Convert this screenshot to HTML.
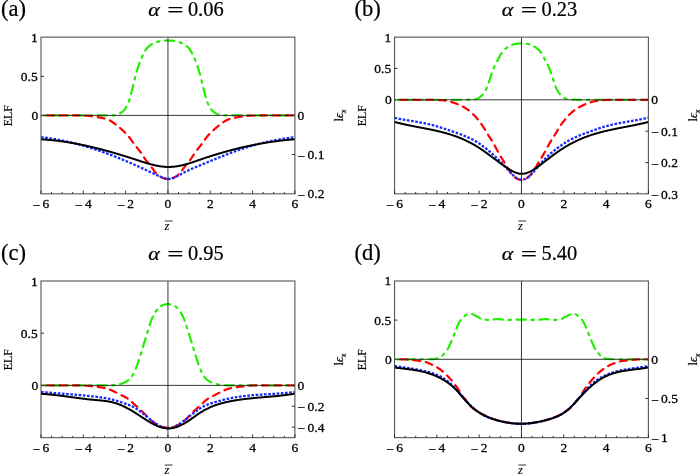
<!DOCTYPE html>
<html><head><meta charset="utf-8"><style>html,body{margin:0;padding:0;background:#fff;}svg{display:block;}</style></head>
<body>
<svg width="700" height="476" viewBox="0 0 700 476">
<rect x="0" y="0" width="700" height="476" fill="#fff"/>
<clipPath id="clipa"><rect x="41.0" y="37.15" width="253.90" height="156.65"/></clipPath>
<g clip-path="url(#clipa)" fill="none" stroke-linejoin="round">
<path d="M41.00,115.40 L41.50,115.40 L42.00,115.40 L42.50,115.40 L43.00,115.40 L43.50,115.40 L44.00,115.40 L44.50,115.40 L45.00,115.40 L45.50,115.40 L46.00,115.40 L46.50,115.40 L47.00,115.40 L47.50,115.40 L48.00,115.40 L48.50,115.40 L49.00,115.40 L49.50,115.40 L50.00,115.40 L50.50,115.40 L51.00,115.40 L51.50,115.40 L52.00,115.40 L52.50,115.40 L53.00,115.40 L53.50,115.40 L54.00,115.40 L54.50,115.40 L55.00,115.40 L55.50,115.40 L56.00,115.40 L56.50,115.40 L57.00,115.40 L57.50,115.40 L58.00,115.40 L58.50,115.40 L59.00,115.40 L59.50,115.40 L60.00,115.40 L60.50,115.40 L61.00,115.40 L61.50,115.40 L62.00,115.40 L62.50,115.40 L63.00,115.40 L63.50,115.40 L64.00,115.40 L64.50,115.40 L65.00,115.40 L65.50,115.40 L66.00,115.40 L66.50,115.40 L67.00,115.40 L67.50,115.40 L68.00,115.40 L68.50,115.40 L69.00,115.40 L69.50,115.40 L70.00,115.40 L70.50,115.40 L71.00,115.40 L71.50,115.40 L72.00,115.40 L72.50,115.40 L73.00,115.40 L73.50,115.40 L74.00,115.40 L74.50,115.40 L75.00,115.40 L75.50,115.40 L76.00,115.40 L76.50,115.40 L77.00,115.40 L77.50,115.40 L78.00,115.40 L78.50,115.40 L79.00,115.40 L79.50,115.40 L80.00,115.40 L80.50,115.40 L81.00,115.40 L81.50,115.40 L82.00,115.40 L82.50,115.40 L83.00,115.40 L83.50,115.40 L84.00,115.40 L84.50,115.40 L85.00,115.40 L85.50,115.40 L86.00,115.40 L86.50,115.40 L87.00,115.40 L87.50,115.40 L88.00,115.40 L88.50,115.40 L89.00,115.40 L89.50,115.40 L90.00,115.40 L90.50,115.40 L91.00,115.40 L91.50,115.40 L92.00,115.40 L92.50,115.40 L93.00,115.40 L93.50,115.40 L94.00,115.40 L94.50,115.40 L95.00,115.40 L95.50,115.40 L96.00,115.40 L96.50,115.40 L97.00,115.40 L97.50,115.40 L98.00,115.40 L98.50,115.40 L99.00,115.40 L99.50,115.40 L100.00,115.40 L100.50,115.40 L101.00,115.40 L101.50,115.40 L102.00,115.40 L102.50,115.40 L103.00,115.40 L103.50,115.40 L104.00,115.40 L104.50,115.40 L105.00,115.40 L105.50,115.40 L106.00,115.40 L106.50,115.40 L107.00,115.40 L107.50,115.40 L108.00,115.40 L108.50,115.40 L109.00,115.40 L109.50,115.40 L110.00,115.40 L110.50,115.40 L111.00,115.40 L111.50,115.40 L112.00,115.40 L112.50,115.40 L113.00,115.39 L113.50,115.37 L114.00,115.35 L114.50,115.32 L115.00,115.28 L115.50,115.24 L116.00,115.20 L116.50,115.11 L117.00,114.95 L117.50,114.73 L118.00,114.47 L118.50,114.19 L119.00,113.91 L119.50,113.64 L120.00,113.36 L120.50,113.06 L121.00,112.75 L121.50,112.41 L122.00,112.06 L122.50,111.67 L123.00,111.25 L123.50,110.79 L124.00,110.30 L124.50,109.72 L125.00,109.04 L125.50,108.27 L126.00,107.44 L126.50,106.54 L127.00,105.59 L127.50,104.58 L128.00,103.44 L128.50,102.17 L129.00,100.79 L129.50,99.27 L130.00,97.56 L130.50,95.75 L131.00,93.90 L131.50,92.03 L132.00,90.10 L132.50,88.13 L133.00,86.12 L133.50,84.09 L134.00,81.95 L134.50,79.76 L135.00,77.68 L135.50,75.78 L136.00,73.97 L136.50,72.22 L137.00,70.54 L137.50,68.93 L138.00,67.39 L138.50,65.91 L139.00,64.47 L139.50,63.07 L140.00,61.71 L140.50,60.40 L141.00,59.16 L141.50,57.99 L142.00,56.91 L142.50,55.89 L143.00,54.89 L143.50,53.90 L144.00,52.95 L144.50,52.03 L145.00,51.15 L145.50,50.32 L146.00,49.55 L146.50,48.83 L147.00,48.18 L147.50,47.61 L148.00,47.11 L148.50,46.65 L149.00,46.23 L149.50,45.84 L150.00,45.48 L150.50,45.15 L151.00,44.83 L151.50,44.54 L152.00,44.26 L152.50,44.00 L153.00,43.75 L153.50,43.50 L154.00,43.26 L154.50,43.02 L155.00,42.80 L155.50,42.58 L156.00,42.38 L156.50,42.18 L157.00,42.00 L157.50,41.84 L158.00,41.68 L158.50,41.54 L159.00,41.42 L159.50,41.31 L160.00,41.21 L160.50,41.11 L161.00,41.02 L161.50,40.94 L162.00,40.86 L162.50,40.80 L163.00,40.74 L163.50,40.70 L164.00,40.67 L164.50,40.63 L165.00,40.60 L165.50,40.57 L166.00,40.55 L166.50,40.53 L167.00,40.51 L167.50,40.50 L168.00,40.50 L168.50,40.50 L169.00,40.51 L169.50,40.53 L170.00,40.55 L170.50,40.58 L171.00,40.61 L171.50,40.64 L172.00,40.67 L172.50,40.71 L173.00,40.75 L173.50,40.81 L174.00,40.87 L174.50,40.95 L175.00,41.04 L175.50,41.13 L176.00,41.23 L176.50,41.33 L177.00,41.45 L177.50,41.57 L178.00,41.71 L178.50,41.87 L179.00,42.04 L179.50,42.22 L180.00,42.42 L180.50,42.63 L181.00,42.84 L181.50,43.07 L182.00,43.30 L182.50,43.55 L183.00,43.80 L183.50,44.05 L184.00,44.32 L184.50,44.60 L185.00,44.89 L185.50,45.21 L186.00,45.55 L186.50,45.92 L187.00,46.32 L187.50,46.74 L188.00,47.20 L188.50,47.72 L189.00,48.31 L189.50,48.97 L190.00,49.70 L190.50,50.48 L191.00,51.33 L191.50,52.21 L192.00,53.14 L192.50,54.10 L193.00,55.08 L193.50,56.09 L194.00,57.12 L194.50,58.22 L195.00,59.40 L195.50,60.66 L196.00,61.97 L196.50,63.34 L197.00,64.76 L197.50,66.20 L198.00,67.69 L198.50,69.25 L199.00,70.87 L199.50,72.57 L200.00,74.32 L200.50,76.15 L201.00,78.08 L201.50,80.20 L202.00,82.38 L202.50,84.50 L203.00,86.53 L203.50,88.53 L204.00,90.49 L204.50,92.41 L205.00,94.27 L205.50,96.12 L206.00,97.92 L206.50,99.59 L207.00,101.07 L207.50,102.43 L208.00,103.68 L208.50,104.79 L209.00,105.78 L209.50,106.72 L210.00,107.61 L210.50,108.43 L211.00,109.18 L211.50,109.84 L212.00,110.40 L212.50,110.89 L213.00,111.33 L213.50,111.75 L214.00,112.13 L214.50,112.48 L215.00,112.81 L215.50,113.12 L216.00,113.41 L216.50,113.69 L217.00,113.96 L217.50,114.25 L218.00,114.52 L218.50,114.77 L219.00,114.98 L219.50,115.14 L220.00,115.21 L220.50,115.25 L221.00,115.29 L221.50,115.32 L222.00,115.35 L222.50,115.37 L223.00,115.39 L223.50,115.40 L224.00,115.40 L224.50,115.40 L225.00,115.40 L225.50,115.40 L226.00,115.40 L226.50,115.40 L227.00,115.40 L227.50,115.40 L228.00,115.40 L228.50,115.40 L229.00,115.40 L229.50,115.40 L230.00,115.40 L230.50,115.40 L231.00,115.40 L231.50,115.40 L232.00,115.40 L232.50,115.40 L233.00,115.40 L233.50,115.40 L234.00,115.40 L234.50,115.40 L235.00,115.40 L235.50,115.40 L236.00,115.40 L236.50,115.40 L237.00,115.40 L237.50,115.40 L238.00,115.40 L238.50,115.40 L239.00,115.40 L239.50,115.40 L240.00,115.40 L240.50,115.40 L241.00,115.40 L241.50,115.40 L242.00,115.40 L242.50,115.40 L243.00,115.40 L243.50,115.40 L244.00,115.40 L244.50,115.40 L245.00,115.40 L245.50,115.40 L246.00,115.40 L246.50,115.40 L247.00,115.40 L247.50,115.40 L248.00,115.40 L248.50,115.40 L249.00,115.40 L249.50,115.40 L250.00,115.40 L250.50,115.40 L251.00,115.40 L251.50,115.40 L252.00,115.40 L252.50,115.40 L253.00,115.40 L253.50,115.40 L254.00,115.40 L254.50,115.40 L255.00,115.40 L255.50,115.40 L256.00,115.40 L256.50,115.40 L257.00,115.40 L257.50,115.40 L258.00,115.40 L258.50,115.40 L259.00,115.40 L259.50,115.40 L260.00,115.40 L260.50,115.40 L261.00,115.40 L261.50,115.40 L262.00,115.40 L262.50,115.40 L263.00,115.40 L263.50,115.40 L264.00,115.40 L264.50,115.40 L265.00,115.40 L265.50,115.40 L266.00,115.40 L266.50,115.40 L267.00,115.40 L267.50,115.40 L268.00,115.40 L268.50,115.40 L269.00,115.40 L269.50,115.40 L270.00,115.40 L270.50,115.40 L271.00,115.40 L271.50,115.40 L272.00,115.40 L272.50,115.40 L273.00,115.40 L273.50,115.40 L274.00,115.40 L274.50,115.40 L275.00,115.40 L275.50,115.40 L276.00,115.40 L276.50,115.40 L277.00,115.40 L277.50,115.40 L278.00,115.40 L278.50,115.40 L279.00,115.40 L279.50,115.40 L280.00,115.40 L280.50,115.40 L281.00,115.40 L281.50,115.40 L282.00,115.40 L282.50,115.40 L283.00,115.40 L283.50,115.40 L284.00,115.40 L284.50,115.40 L285.00,115.40 L285.50,115.40 L286.00,115.40 L286.50,115.40 L287.00,115.40 L287.50,115.40 L288.00,115.40 L288.50,115.40 L289.00,115.40 L289.50,115.40 L290.00,115.40 L290.50,115.40 L291.00,115.40 L291.50,115.40 L292.00,115.40 L292.50,115.40 L293.00,115.40 L293.50,115.40 L294.00,115.40 L294.50,115.40 L294.90,115.40" stroke="#22ee00" stroke-width="2.2" stroke-dasharray="9.2 5.65 2.4 5.65" stroke-dashoffset="11.97" stroke-linecap="round"/>
<path d="M41.00,115.40 L41.50,115.40 L42.00,115.40 L42.50,115.40 L43.00,115.40 L43.50,115.40 L44.00,115.40 L44.50,115.40 L45.00,115.40 L45.50,115.40 L46.00,115.40 L46.50,115.40 L47.00,115.40 L47.50,115.40 L48.00,115.40 L48.50,115.40 L49.00,115.40 L49.50,115.40 L50.00,115.40 L50.50,115.40 L51.00,115.40 L51.50,115.40 L52.00,115.40 L52.50,115.40 L53.00,115.40 L53.50,115.40 L54.00,115.40 L54.50,115.40 L55.00,115.40 L55.50,115.40 L56.00,115.40 L56.50,115.40 L57.00,115.40 L57.50,115.40 L58.00,115.40 L58.50,115.40 L59.00,115.40 L59.50,115.40 L60.00,115.40 L60.50,115.40 L61.00,115.40 L61.50,115.40 L62.00,115.40 L62.50,115.40 L63.00,115.40 L63.50,115.40 L64.00,115.40 L64.50,115.40 L65.00,115.40 L65.50,115.40 L66.00,115.40 L66.50,115.40 L67.00,115.40 L67.50,115.40 L68.00,115.40 L68.50,115.40 L69.00,115.40 L69.50,115.40 L70.00,115.40 L70.50,115.40 L71.00,115.40 L71.50,115.40 L72.00,115.40 L72.50,115.40 L73.00,115.40 L73.50,115.40 L74.00,115.40 L74.50,115.40 L75.00,115.40 L75.50,115.40 L76.00,115.40 L76.50,115.41 L77.00,115.41 L77.50,115.42 L78.00,115.42 L78.50,115.43 L79.00,115.44 L79.50,115.45 L80.00,115.46 L80.50,115.47 L81.00,115.48 L81.50,115.49 L82.00,115.51 L82.50,115.52 L83.00,115.54 L83.50,115.55 L84.00,115.57 L84.50,115.58 L85.00,115.60 L85.50,115.62 L86.00,115.65 L86.50,115.68 L87.00,115.72 L87.50,115.76 L88.00,115.80 L88.50,115.85 L89.00,115.90 L89.50,115.95 L90.00,116.00 L90.50,116.05 L91.00,116.11 L91.50,116.18 L92.00,116.25 L92.50,116.32 L93.00,116.39 L93.50,116.47 L94.00,116.55 L94.50,116.62 L95.00,116.70 L95.50,116.77 L96.00,116.85 L96.50,116.92 L97.00,117.00 L97.50,117.07 L98.00,117.15 L98.50,117.23 L99.00,117.32 L99.50,117.41 L100.00,117.50 L100.50,117.60 L101.00,117.70 L101.50,117.81 L102.00,117.92 L102.50,118.04 L103.00,118.16 L103.50,118.29 L104.00,118.42 L104.50,118.56 L105.00,118.70 L105.50,118.85 L106.00,118.99 L106.50,119.15 L107.00,119.31 L107.50,119.48 L108.00,119.66 L108.50,119.85 L109.00,120.05 L109.50,120.27 L110.00,120.50 L110.50,120.76 L111.00,121.06 L111.50,121.40 L112.00,121.75 L112.50,122.12 L113.00,122.50 L113.50,122.88 L114.00,123.25 L114.50,123.61 L115.00,123.99 L115.50,124.36 L116.00,124.74 L116.50,125.12 L117.00,125.51 L117.50,125.90 L118.00,126.30 L118.50,126.71 L119.00,127.12 L119.50,127.53 L120.00,127.96 L120.50,128.39 L121.00,128.82 L121.50,129.27 L122.00,129.72 L122.50,130.17 L123.00,130.63 L123.50,131.10 L124.00,131.57 L124.50,132.05 L125.00,132.55 L125.50,133.05 L126.00,133.56 L126.50,134.08 L127.00,134.62 L127.50,135.16 L128.00,135.73 L128.50,136.30 L129.00,136.90 L129.50,137.54 L130.00,138.20 L130.50,138.89 L131.00,139.60 L131.50,140.31 L132.00,141.04 L132.50,141.76 L133.00,142.48 L133.50,143.18 L134.00,143.87 L134.50,144.53 L135.00,145.17 L135.50,145.80 L136.00,146.41 L136.50,147.02 L137.00,147.62 L137.50,148.22 L138.00,148.83 L138.50,149.45 L139.00,150.08 L139.50,150.72 L140.00,151.39 L140.50,152.08 L141.00,152.81 L141.50,153.57 L142.00,154.35 L142.50,155.13 L143.00,155.90 L143.50,156.65 L144.00,157.42 L144.50,158.19 L145.00,158.94 L145.50,159.67 L146.00,160.34 L146.50,160.96 L147.00,161.51 L147.50,162.04 L148.00,162.60 L148.50,163.21 L149.00,163.85 L149.50,164.51 L150.00,165.18 L150.50,165.86 L151.00,166.53 L151.50,167.21 L152.00,167.87 L152.50,168.53 L153.00,169.20 L153.50,169.89 L154.00,170.57 L154.50,171.23 L155.00,171.86 L155.50,172.46 L156.00,173.00 L156.50,173.50 L157.00,173.99 L157.50,174.46 L158.00,174.91 L158.50,175.33 L159.00,175.72 L159.50,176.08 L160.00,176.40 L160.50,176.70 L161.00,176.98 L161.50,177.24 L162.00,177.48 L162.50,177.71 L163.00,177.91 L163.50,178.10 L164.00,178.27 L164.50,178.43 L165.00,178.60 L165.50,178.76 L166.00,178.91 L166.50,179.03 L167.00,179.13 L167.50,179.18 L168.00,179.20 L168.50,179.18 L169.00,179.11 L169.50,179.01 L170.00,178.88 L170.50,178.73 L171.00,178.57 L171.50,178.40 L172.00,178.23 L172.50,178.06 L173.00,177.87 L173.50,177.66 L174.00,177.43 L174.50,177.19 L175.00,176.92 L175.50,176.64 L176.00,176.34 L176.50,176.01 L177.00,175.64 L177.50,175.25 L178.00,174.82 L178.50,174.37 L179.00,173.90 L179.50,173.40 L180.00,172.90 L180.50,172.34 L181.00,171.74 L181.50,171.10 L182.00,170.43 L182.50,169.75 L183.00,169.07 L183.50,168.39 L184.00,167.74 L184.50,167.07 L185.00,166.40 L185.50,165.72 L186.00,165.04 L186.50,164.37 L187.00,163.72 L187.50,163.09 L188.00,162.48 L188.50,161.93 L189.00,161.40 L189.50,160.84 L190.00,160.21 L190.50,159.52 L191.00,158.79 L191.50,158.03 L192.00,157.26 L192.50,156.50 L193.00,155.75 L193.50,154.98 L194.00,154.20 L194.50,153.42 L195.00,152.66 L195.50,151.94 L196.00,151.25 L196.50,150.59 L197.00,149.95 L197.50,149.32 L198.00,148.71 L198.50,148.10 L199.00,147.50 L199.50,146.90 L200.00,146.29 L200.50,145.67 L201.00,145.05 L201.50,144.40 L202.00,143.73 L202.50,143.04 L203.00,142.33 L203.50,141.61 L204.00,140.89 L204.50,140.17 L205.00,139.45 L205.50,138.75 L206.00,138.07 L206.50,137.41 L207.00,136.78 L207.50,136.18 L208.00,135.61 L208.50,135.05 L209.00,134.51 L209.50,133.98 L210.00,133.46 L210.50,132.95 L211.00,132.45 L211.50,131.96 L212.00,131.48 L212.50,131.00 L213.00,130.54 L213.50,130.08 L214.00,129.63 L214.50,129.18 L215.00,128.74 L215.50,128.30 L216.00,127.87 L216.50,127.45 L217.00,127.03 L217.50,126.63 L218.00,126.22 L218.50,125.83 L219.00,125.43 L219.50,125.05 L220.00,124.66 L220.50,124.29 L221.00,123.91 L221.50,123.54 L222.00,123.17 L222.50,122.80 L223.00,122.43 L223.50,122.05 L224.00,121.68 L224.50,121.33 L225.00,121.00 L225.50,120.71 L226.00,120.45 L226.50,120.22 L227.00,120.01 L227.50,119.81 L228.00,119.62 L228.50,119.45 L229.00,119.28 L229.50,119.12 L230.00,118.96 L230.50,118.82 L231.00,118.67 L231.50,118.53 L232.00,118.39 L232.50,118.26 L233.00,118.14 L233.50,118.02 L234.00,117.90 L234.50,117.79 L235.00,117.68 L235.50,117.58 L236.00,117.48 L236.50,117.39 L237.00,117.30 L237.50,117.22 L238.00,117.14 L238.50,117.06 L239.00,116.98 L239.50,116.91 L240.00,116.83 L240.50,116.76 L241.00,116.69 L241.50,116.61 L242.00,116.53 L242.50,116.46 L243.00,116.38 L243.50,116.31 L244.00,116.23 L244.50,116.17 L245.00,116.10 L245.50,116.04 L246.00,115.99 L246.50,115.94 L247.00,115.89 L247.50,115.84 L248.00,115.79 L248.50,115.75 L249.00,115.71 L249.50,115.67 L250.00,115.64 L250.50,115.62 L251.00,115.60 L251.50,115.58 L252.00,115.56 L252.50,115.55 L253.00,115.53 L253.50,115.52 L254.00,115.50 L254.50,115.49 L255.00,115.48 L255.50,115.47 L256.00,115.46 L256.50,115.44 L257.00,115.44 L257.50,115.43 L258.00,115.42 L258.50,115.41 L259.00,115.41 L259.50,115.40 L260.00,115.40 L260.50,115.40 L261.00,115.40 L261.50,115.40 L262.00,115.40 L262.50,115.40 L263.00,115.40 L263.50,115.40 L264.00,115.40 L264.50,115.40 L265.00,115.40 L265.50,115.40 L266.00,115.40 L266.50,115.40 L267.00,115.40 L267.50,115.40 L268.00,115.40 L268.50,115.40 L269.00,115.40 L269.50,115.40 L270.00,115.40 L270.50,115.40 L271.00,115.40 L271.50,115.40 L272.00,115.40 L272.50,115.40 L273.00,115.40 L273.50,115.40 L274.00,115.40 L274.50,115.40 L275.00,115.40 L275.50,115.40 L276.00,115.40 L276.50,115.40 L277.00,115.40 L277.50,115.40 L278.00,115.40 L278.50,115.40 L279.00,115.40 L279.50,115.40 L280.00,115.40 L280.50,115.40 L281.00,115.40 L281.50,115.40 L282.00,115.40 L282.50,115.40 L283.00,115.40 L283.50,115.40 L284.00,115.40 L284.50,115.40 L285.00,115.40 L285.50,115.40 L286.00,115.40 L286.50,115.40 L287.00,115.40 L287.50,115.40 L288.00,115.40 L288.50,115.40 L289.00,115.40 L289.50,115.40 L290.00,115.40 L290.50,115.40 L291.00,115.40 L291.50,115.40 L292.00,115.40 L292.50,115.40 L293.00,115.40 L293.50,115.40 L294.00,115.40 L294.50,115.40 L294.90,115.40" stroke="#ff0000" stroke-width="2.2" stroke-dasharray="7.0 5.7" stroke-dashoffset="6.70" stroke-linecap="round"/>
<path d="M41.00,137.16 L41.50,137.21 L42.00,137.27 L42.50,137.33 L43.00,137.39 L43.50,137.45 L44.00,137.51 L44.50,137.58 L45.00,137.64 L45.50,137.71 L46.00,137.77 L46.50,137.84 L47.00,137.91 L47.50,137.98 L48.00,138.05 L48.50,138.12 L49.00,138.20 L49.50,138.27 L50.00,138.35 L50.50,138.42 L51.00,138.50 L51.50,138.58 L52.00,138.66 L52.50,138.74 L53.00,138.82 L53.50,138.91 L54.00,138.99 L54.50,139.08 L55.00,139.16 L55.50,139.25 L56.00,139.34 L56.50,139.43 L57.00,139.52 L57.50,139.61 L58.00,139.70 L58.50,139.80 L59.00,139.89 L59.50,139.99 L60.00,140.08 L60.50,140.18 L61.00,140.28 L61.50,140.38 L62.00,140.48 L62.50,140.58 L63.00,140.69 L63.50,140.79 L64.00,140.90 L64.50,141.00 L65.00,141.11 L65.50,141.22 L66.00,141.33 L66.50,141.44 L67.00,141.55 L67.50,141.66 L68.00,141.78 L68.50,141.89 L69.00,142.01 L69.50,142.12 L70.00,142.24 L70.50,142.36 L71.00,142.48 L71.50,142.60 L72.00,142.72 L72.50,142.84 L73.00,142.97 L73.50,143.09 L74.00,143.21 L74.50,143.34 L75.00,143.47 L75.50,143.60 L76.00,143.73 L76.50,143.86 L77.00,143.99 L77.50,144.12 L78.00,144.25 L78.50,144.39 L79.00,144.52 L79.50,144.66 L80.00,144.79 L80.50,144.93 L81.00,145.07 L81.50,145.21 L82.00,145.35 L82.50,145.49 L83.00,145.63 L83.50,145.78 L84.00,145.92 L84.50,146.06 L85.00,146.21 L85.50,146.36 L86.00,146.51 L86.50,146.65 L87.00,146.80 L87.50,146.95 L88.00,147.11 L88.50,147.26 L89.00,147.41 L89.50,147.57 L90.00,147.72 L90.50,147.88 L91.00,148.03 L91.50,148.19 L92.00,148.35 L92.50,148.51 L93.00,148.67 L93.50,148.83 L94.00,148.99 L94.50,149.15 L95.00,149.32 L95.50,149.48 L96.00,149.65 L96.50,149.81 L97.00,149.98 L97.50,150.15 L98.00,150.32 L98.50,150.49 L99.00,150.66 L99.50,150.83 L100.00,151.00 L100.50,151.17 L101.00,151.35 L101.50,151.52 L102.00,151.70 L102.50,151.87 L103.00,152.05 L103.50,152.23 L104.00,152.41 L104.50,152.59 L105.00,152.77 L105.50,152.95 L106.00,153.13 L106.50,153.31 L107.00,153.50 L107.50,153.68 L108.00,153.87 L108.50,154.05 L109.00,154.24 L109.50,154.43 L110.00,154.61 L110.50,154.80 L111.00,154.99 L111.50,155.18 L112.00,155.37 L112.50,155.57 L113.00,155.76 L113.50,155.95 L114.00,156.15 L114.50,156.34 L115.00,156.54 L115.50,156.74 L116.00,156.93 L116.50,157.13 L117.00,157.33 L117.50,157.53 L118.00,157.73 L118.50,157.93 L119.00,158.13 L119.50,158.33 L120.00,158.54 L120.50,158.74 L121.00,158.95 L121.50,159.15 L122.00,159.36 L122.50,159.56 L123.00,159.77 L123.50,159.98 L124.00,160.19 L124.50,160.40 L125.00,160.61 L125.50,160.82 L126.00,161.03 L126.50,161.24 L127.00,161.46 L127.50,161.67 L128.00,161.89 L128.50,162.10 L129.00,162.32 L129.50,162.53 L130.00,162.75 L130.50,162.97 L131.00,163.19 L131.50,163.41 L132.00,163.63 L132.50,163.85 L133.00,164.07 L133.50,164.29 L134.00,164.51 L134.50,164.73 L135.00,164.96 L135.50,165.18 L136.00,165.41 L136.50,165.63 L137.00,165.86 L137.50,166.09 L138.00,166.31 L138.50,166.54 L139.00,166.77 L139.50,167.00 L140.00,167.23 L140.50,167.46 L141.00,167.69 L141.50,167.92 L142.00,168.16 L142.50,168.39 L143.00,168.62 L143.50,168.85 L144.00,169.09 L144.50,169.32 L145.00,169.56 L145.50,169.79 L146.00,170.03 L146.50,170.26 L147.00,170.50 L147.50,170.73 L148.00,170.97 L148.50,171.20 L149.00,171.44 L149.50,171.67 L150.00,171.91 L150.50,172.14 L151.00,172.38 L151.50,172.61 L152.00,172.85 L152.50,173.08 L153.00,173.32 L153.50,173.55 L154.00,173.78 L154.50,174.01 L155.00,174.25 L155.50,174.48 L156.00,174.71 L156.50,174.94 L157.00,175.17 L157.50,175.40 L158.00,175.63 L158.50,175.85 L159.00,176.08 L159.50,176.31 L160.00,176.53 L160.50,176.76 L161.00,176.98 L161.50,177.20 L162.00,177.41 L162.50,177.61 L163.00,177.81 L163.50,178.00 L164.00,178.17 L164.50,178.34 L165.00,178.48 L165.50,178.62 L166.00,178.73 L166.50,178.83 L167.00,178.90 L167.50,178.96 L168.00,178.99 L168.50,178.99 L169.00,178.97 L169.50,178.93 L170.00,178.87 L170.50,178.79 L171.00,178.69 L171.50,178.56 L172.00,178.43 L172.50,178.27 L173.00,178.10 L173.50,177.92 L174.00,177.72 L174.50,177.51 L175.00,177.29 L175.50,177.06 L176.00,176.81 L176.50,176.57 L177.00,176.31 L177.50,176.05 L178.00,175.78 L178.50,175.51 L179.00,175.24 L179.50,174.96 L180.00,174.68 L180.50,174.41 L181.00,174.13 L181.50,173.86 L182.00,173.59 L182.50,173.32 L183.00,173.06 L183.50,172.80 L184.00,172.54 L184.50,172.29 L185.00,172.04 L185.50,171.79 L186.00,171.54 L186.50,171.30 L187.00,171.06 L187.50,170.82 L188.00,170.58 L188.50,170.35 L189.00,170.12 L189.50,169.89 L190.00,169.66 L190.50,169.43 L191.00,169.21 L191.50,168.98 L192.00,168.76 L192.50,168.54 L193.00,168.32 L193.50,168.11 L194.00,167.89 L194.50,167.68 L195.00,167.46 L195.50,167.25 L196.00,167.04 L196.50,166.83 L197.00,166.62 L197.50,166.41 L198.00,166.20 L198.50,165.99 L199.00,165.78 L199.50,165.58 L200.00,165.37 L200.50,165.16 L201.00,164.95 L201.50,164.75 L202.00,164.54 L202.50,164.33 L203.00,164.12 L203.50,163.92 L204.00,163.71 L204.50,163.50 L205.00,163.29 L205.50,163.08 L206.00,162.88 L206.50,162.67 L207.00,162.46 L207.50,162.25 L208.00,162.04 L208.50,161.84 L209.00,161.63 L209.50,161.42 L210.00,161.21 L210.50,161.01 L211.00,160.80 L211.50,160.59 L212.00,160.39 L212.50,160.18 L213.00,159.97 L213.50,159.77 L214.00,159.56 L214.50,159.35 L215.00,159.15 L215.50,158.94 L216.00,158.74 L216.50,158.53 L217.00,158.33 L217.50,158.13 L218.00,157.92 L218.50,157.72 L219.00,157.52 L219.50,157.31 L220.00,157.11 L220.50,156.91 L221.00,156.71 L221.50,156.51 L222.00,156.31 L222.50,156.11 L223.00,155.91 L223.50,155.71 L224.00,155.51 L224.50,155.32 L225.00,155.12 L225.50,154.92 L226.00,154.73 L226.50,154.53 L227.00,154.34 L227.50,154.15 L228.00,153.95 L228.50,153.76 L229.00,153.57 L229.50,153.38 L230.00,153.19 L230.50,153.00 L231.00,152.81 L231.50,152.62 L232.00,152.43 L232.50,152.25 L233.00,152.06 L233.50,151.88 L234.00,151.69 L234.50,151.51 L235.00,151.33 L235.50,151.15 L236.00,150.97 L236.50,150.79 L237.00,150.61 L237.50,150.43 L238.00,150.26 L238.50,150.08 L239.00,149.91 L239.50,149.73 L240.00,149.56 L240.50,149.39 L241.00,149.22 L241.50,149.05 L242.00,148.88 L242.50,148.71 L243.00,148.55 L243.50,148.38 L244.00,148.22 L244.50,148.06 L245.00,147.90 L245.50,147.74 L246.00,147.58 L246.50,147.42 L247.00,147.26 L247.50,147.11 L248.00,146.95 L248.50,146.80 L249.00,146.65 L249.50,146.50 L250.00,146.35 L250.50,146.20 L251.00,146.06 L251.50,145.91 L252.00,145.77 L252.50,145.62 L253.00,145.48 L253.50,145.34 L254.00,145.20 L254.50,145.06 L255.00,144.92 L255.50,144.79 L256.00,144.65 L256.50,144.52 L257.00,144.39 L257.50,144.25 L258.00,144.12 L258.50,143.99 L259.00,143.87 L259.50,143.74 L260.00,143.61 L260.50,143.49 L261.00,143.36 L261.50,143.24 L262.00,143.12 L262.50,143.00 L263.00,142.88 L263.50,142.76 L264.00,142.64 L264.50,142.52 L265.00,142.41 L265.50,142.29 L266.00,142.18 L266.50,142.07 L267.00,141.96 L267.50,141.84 L268.00,141.73 L268.50,141.63 L269.00,141.52 L269.50,141.41 L270.00,141.31 L270.50,141.20 L271.00,141.10 L271.50,140.99 L272.00,140.89 L272.50,140.79 L273.00,140.69 L273.50,140.59 L274.00,140.49 L274.50,140.40 L275.00,140.30 L275.50,140.21 L276.00,140.11 L276.50,140.02 L277.00,139.93 L277.50,139.83 L278.00,139.74 L278.50,139.65 L279.00,139.56 L279.50,139.48 L280.00,139.39 L280.50,139.30 L281.00,139.22 L281.50,139.13 L282.00,139.05 L282.50,138.96 L283.00,138.88 L283.50,138.80 L284.00,138.72 L284.50,138.64 L285.00,138.56 L285.50,138.48 L286.00,138.41 L286.50,138.33 L287.00,138.25 L287.50,138.18 L288.00,138.10 L288.50,138.03 L289.00,137.96 L289.50,137.89 L290.00,137.81 L290.50,137.74 L291.00,137.67 L291.50,137.61 L292.00,137.54 L292.50,137.47 L293.00,137.40 L293.50,137.34 L294.00,137.27 L294.50,137.21 L294.90,137.16" stroke="#1428ff" stroke-width="2.3" stroke-dasharray="2.6 1.6"/>
<path d="M41.00,139.30 L41.50,139.33 L42.00,139.36 L42.50,139.39 L43.00,139.42 L43.50,139.45 L44.00,139.49 L44.50,139.52 L45.00,139.56 L45.50,139.60 L46.00,139.63 L46.50,139.67 L47.00,139.71 L47.50,139.75 L48.00,139.80 L48.50,139.84 L49.00,139.88 L49.50,139.93 L50.00,139.97 L50.50,140.02 L51.00,140.07 L51.50,140.12 L52.00,140.17 L52.50,140.22 L53.00,140.27 L53.50,140.33 L54.00,140.38 L54.50,140.43 L55.00,140.49 L55.50,140.55 L56.00,140.61 L56.50,140.66 L57.00,140.72 L57.50,140.79 L58.00,140.85 L58.50,140.91 L59.00,140.97 L59.50,141.04 L60.00,141.10 L60.50,141.17 L61.00,141.24 L61.50,141.31 L62.00,141.38 L62.50,141.45 L63.00,141.52 L63.50,141.59 L64.00,141.66 L64.50,141.74 L65.00,141.81 L65.50,141.89 L66.00,141.96 L66.50,142.04 L67.00,142.12 L67.50,142.20 L68.00,142.28 L68.50,142.36 L69.00,142.44 L69.50,142.52 L70.00,142.61 L70.50,142.69 L71.00,142.78 L71.50,142.86 L72.00,142.95 L72.50,143.04 L73.00,143.13 L73.50,143.21 L74.00,143.31 L74.50,143.40 L75.00,143.49 L75.50,143.58 L76.00,143.67 L76.50,143.77 L77.00,143.86 L77.50,143.96 L78.00,144.06 L78.50,144.15 L79.00,144.25 L79.50,144.35 L80.00,144.45 L80.50,144.55 L81.00,144.65 L81.50,144.76 L82.00,144.86 L82.50,144.96 L83.00,145.07 L83.50,145.17 L84.00,145.28 L84.50,145.39 L85.00,145.49 L85.50,145.60 L86.00,145.71 L86.50,145.82 L87.00,145.93 L87.50,146.04 L88.00,146.15 L88.50,146.27 L89.00,146.38 L89.50,146.50 L90.00,146.61 L90.50,146.73 L91.00,146.84 L91.50,146.96 L92.00,147.08 L92.50,147.19 L93.00,147.31 L93.50,147.43 L94.00,147.55 L94.50,147.68 L95.00,147.80 L95.50,147.92 L96.00,148.04 L96.50,148.17 L97.00,148.29 L97.50,148.42 L98.00,148.54 L98.50,148.67 L99.00,148.80 L99.50,148.92 L100.00,149.05 L100.50,149.18 L101.00,149.31 L101.50,149.44 L102.00,149.57 L102.50,149.70 L103.00,149.83 L103.50,149.97 L104.00,150.10 L104.50,150.23 L105.00,150.37 L105.50,150.50 L106.00,150.64 L106.50,150.78 L107.00,150.91 L107.50,151.05 L108.00,151.19 L108.50,151.33 L109.00,151.47 L109.50,151.61 L110.00,151.75 L110.50,151.89 L111.00,152.03 L111.50,152.17 L112.00,152.31 L112.50,152.46 L113.00,152.60 L113.50,152.74 L114.00,152.89 L114.50,153.03 L115.00,153.18 L115.50,153.32 L116.00,153.47 L116.50,153.62 L117.00,153.77 L117.50,153.92 L118.00,154.06 L118.50,154.21 L119.00,154.36 L119.50,154.51 L120.00,154.66 L120.50,154.82 L121.00,154.97 L121.50,155.12 L122.00,155.27 L122.50,155.42 L123.00,155.58 L123.50,155.73 L124.00,155.89 L124.50,156.04 L125.00,156.20 L125.50,156.35 L126.00,156.51 L126.50,156.67 L127.00,156.82 L127.50,156.98 L128.00,157.14 L128.50,157.30 L129.00,157.46 L129.50,157.62 L130.00,157.78 L130.50,157.94 L131.00,158.10 L131.50,158.26 L132.00,158.42 L132.50,158.58 L133.00,158.74 L133.50,158.90 L134.00,159.07 L134.50,159.23 L135.00,159.39 L135.50,159.56 L136.00,159.72 L136.50,159.89 L137.00,160.05 L137.50,160.22 L138.00,160.38 L138.50,160.54 L139.00,160.71 L139.50,160.87 L140.00,161.03 L140.50,161.19 L141.00,161.36 L141.50,161.52 L142.00,161.68 L142.50,161.84 L143.00,162.00 L143.50,162.15 L144.00,162.31 L144.50,162.46 L145.00,162.62 L145.50,162.77 L146.00,162.92 L146.50,163.07 L147.00,163.22 L147.50,163.37 L148.00,163.51 L148.50,163.65 L149.00,163.79 L149.50,163.93 L150.00,164.07 L150.50,164.20 L151.00,164.34 L151.50,164.47 L152.00,164.59 L152.50,164.72 L153.00,164.84 L153.50,164.96 L154.00,165.08 L154.50,165.20 L155.00,165.31 L155.50,165.42 L156.00,165.52 L156.50,165.62 L157.00,165.72 L157.50,165.82 L158.00,165.91 L158.50,166.00 L159.00,166.09 L159.50,166.17 L160.00,166.25 L160.50,166.32 L161.00,166.40 L161.50,166.46 L162.00,166.53 L162.50,166.58 L163.00,166.64 L163.50,166.69 L164.00,166.74 L164.50,166.78 L165.00,166.82 L165.50,166.85 L166.00,166.88 L166.50,166.90 L167.00,166.92 L167.50,166.93 L168.00,166.94 L168.50,166.94 L169.00,166.94 L169.50,166.94 L170.00,166.93 L170.50,166.91 L171.00,166.89 L171.50,166.86 L172.00,166.83 L172.50,166.80 L173.00,166.76 L173.50,166.72 L174.00,166.67 L174.50,166.61 L175.00,166.56 L175.50,166.49 L176.00,166.43 L176.50,166.36 L177.00,166.28 L177.50,166.20 L178.00,166.12 L178.50,166.03 L179.00,165.94 L179.50,165.85 L180.00,165.75 L180.50,165.64 L181.00,165.54 L181.50,165.43 L182.00,165.31 L182.50,165.19 L183.00,165.07 L183.50,164.95 L184.00,164.82 L184.50,164.69 L185.00,164.56 L185.50,164.42 L186.00,164.28 L186.50,164.14 L187.00,163.99 L187.50,163.85 L188.00,163.70 L188.50,163.55 L189.00,163.39 L189.50,163.24 L190.00,163.08 L190.50,162.92 L191.00,162.76 L191.50,162.60 L192.00,162.43 L192.50,162.27 L193.00,162.10 L193.50,161.93 L194.00,161.76 L194.50,161.59 L195.00,161.42 L195.50,161.25 L196.00,161.08 L196.50,160.91 L197.00,160.73 L197.50,160.56 L198.00,160.39 L198.50,160.21 L199.00,160.04 L199.50,159.87 L200.00,159.69 L200.50,159.52 L201.00,159.35 L201.50,159.18 L202.00,159.01 L202.50,158.83 L203.00,158.66 L203.50,158.50 L204.00,158.33 L204.50,158.16 L205.00,157.99 L205.50,157.82 L206.00,157.66 L206.50,157.49 L207.00,157.33 L207.50,157.16 L208.00,157.00 L208.50,156.84 L209.00,156.68 L209.50,156.51 L210.00,156.35 L210.50,156.19 L211.00,156.03 L211.50,155.87 L212.00,155.72 L212.50,155.56 L213.00,155.40 L213.50,155.25 L214.00,155.09 L214.50,154.93 L215.00,154.78 L215.50,154.63 L216.00,154.47 L216.50,154.32 L217.00,154.17 L217.50,154.02 L218.00,153.87 L218.50,153.72 L219.00,153.57 L219.50,153.42 L220.00,153.27 L220.50,153.13 L221.00,152.98 L221.50,152.84 L222.00,152.69 L222.50,152.55 L223.00,152.40 L223.50,152.26 L224.00,152.12 L224.50,151.98 L225.00,151.84 L225.50,151.70 L226.00,151.56 L226.50,151.42 L227.00,151.28 L227.50,151.14 L228.00,151.01 L228.50,150.87 L229.00,150.74 L229.50,150.60 L230.00,150.47 L230.50,150.33 L231.00,150.20 L231.50,150.07 L232.00,149.94 L232.50,149.81 L233.00,149.68 L233.50,149.55 L234.00,149.42 L234.50,149.29 L235.00,149.17 L235.50,149.04 L236.00,148.91 L236.50,148.79 L237.00,148.66 L237.50,148.54 L238.00,148.42 L238.50,148.30 L239.00,148.17 L239.50,148.05 L240.00,147.93 L240.50,147.81 L241.00,147.70 L241.50,147.58 L242.00,147.46 L242.50,147.34 L243.00,147.23 L243.50,147.11 L244.00,147.00 L244.50,146.89 L245.00,146.77 L245.50,146.66 L246.00,146.55 L246.50,146.44 L247.00,146.33 L247.50,146.22 L248.00,146.11 L248.50,146.00 L249.00,145.90 L249.50,145.79 L250.00,145.68 L250.50,145.58 L251.00,145.48 L251.50,145.37 L252.00,145.27 L252.50,145.17 L253.00,145.07 L253.50,144.96 L254.00,144.86 L254.50,144.77 L255.00,144.67 L255.50,144.57 L256.00,144.47 L256.50,144.38 L257.00,144.28 L257.50,144.19 L258.00,144.09 L258.50,144.00 L259.00,143.91 L259.50,143.81 L260.00,143.72 L260.50,143.63 L261.00,143.54 L261.50,143.45 L262.00,143.37 L262.50,143.28 L263.00,143.19 L263.50,143.11 L264.00,143.02 L264.50,142.94 L265.00,142.85 L265.50,142.77 L266.00,142.69 L266.50,142.61 L267.00,142.53 L267.50,142.45 L268.00,142.37 L268.50,142.29 L269.00,142.21 L269.50,142.13 L270.00,142.06 L270.50,141.98 L271.00,141.91 L271.50,141.83 L272.00,141.76 L272.50,141.69 L273.00,141.62 L273.50,141.55 L274.00,141.48 L274.50,141.41 L275.00,141.34 L275.50,141.27 L276.00,141.20 L276.50,141.14 L277.00,141.07 L277.50,141.01 L278.00,140.94 L278.50,140.88 L279.00,140.82 L279.50,140.75 L280.00,140.69 L280.50,140.63 L281.00,140.57 L281.50,140.52 L282.00,140.46 L282.50,140.40 L283.00,140.34 L283.50,140.29 L284.00,140.23 L284.50,140.18 L285.00,140.13 L285.50,140.07 L286.00,140.02 L286.50,139.97 L287.00,139.92 L287.50,139.87 L288.00,139.82 L288.50,139.78 L289.00,139.73 L289.50,139.68 L290.00,139.64 L290.50,139.59 L291.00,139.55 L291.50,139.51 L292.00,139.46 L292.50,139.42 L293.00,139.38 L293.50,139.34 L294.00,139.30 L294.50,139.27 L294.90,139.24" stroke="#000" stroke-width="2"/>
<path d="M41.0,115.4H294.9M167.95,37.15V193.8" stroke="#222" stroke-width="0.9"/>
</g>
<rect x="41.0" y="37.15" width="253.90" height="156.65" fill="none" stroke="#555" stroke-width="1.1"/>
<path d="M41.00,193.8v-3.2 M51.58,193.8v-1.8 M62.16,193.8v-1.8 M72.74,193.8v-1.8 M83.32,193.8v-3.2 M93.90,193.8v-1.8 M104.47,193.8v-1.8 M115.05,193.8v-1.8 M125.63,193.8v-3.2 M136.21,193.8v-1.8 M146.79,193.8v-1.8 M157.37,193.8v-1.8 M167.95,193.8v-3.2 M178.53,193.8v-1.8 M189.11,193.8v-1.8 M199.69,193.8v-1.8 M210.27,193.8v-3.2 M220.85,193.8v-1.8 M231.42,193.8v-1.8 M242.00,193.8v-1.8 M252.58,193.8v-3.2 M263.16,193.8v-1.8 M273.74,193.8v-1.8 M284.32,193.8v-1.8 M294.90,193.8v-3.2 M41.0,76.30h3 M294.9,154.50h-3" stroke="#222" stroke-width="0.9" fill="none"/>
<g font-family="'Liberation Serif', 'DejaVu Serif', serif" font-size="13.5" fill="#000" stroke="#000" stroke-width="0.3"><text x="41.00" y="208.10" text-anchor="middle"><tspan dy="1.5">−</tspan><tspan dx="2.3" dy="-1.5">6</tspan></text><text x="83.32" y="208.10" text-anchor="middle"><tspan dy="1.5">−</tspan><tspan dx="2.3" dy="-1.5">4</tspan></text><text x="125.63" y="208.10" text-anchor="middle"><tspan dy="1.5">−</tspan><tspan dx="2.3" dy="-1.5">2</tspan></text><text x="167.95" y="208.10" text-anchor="middle">0</text><text x="210.27" y="208.10" text-anchor="middle">2</text><text x="252.58" y="208.10" text-anchor="middle">4</text><text x="294.90" y="208.10" text-anchor="middle">6</text><text x="37.80" y="41.70" text-anchor="end">1</text><text x="37.65" y="80.80" text-anchor="end">0.5</text><text x="38.20" y="119.90" text-anchor="end">0</text><text x="297.60" y="119.90" text-anchor="start">0</text><text x="297.60" y="159.00" text-anchor="start"><tspan dy="1.5">−</tspan><tspan dx="2.3" dy="-1.5">0.1</tspan></text><text x="297.60" y="198.10" text-anchor="start"><tspan dy="1.5">−</tspan><tspan dx="2.3" dy="-1.5">0.2</tspan></text></g>
<text stroke="#000" stroke-width="0.15" transform="translate(12.4,115.65) rotate(-90) scale(0.91,1)" font-family="'Liberation Serif', 'DejaVu Serif', serif" font-size="13.2" text-anchor="middle">ELF</text>
<text stroke="#000" stroke-width="0.2" transform="translate(343.2,121.5) rotate(-90)" font-family="'Liberation Serif', 'DejaVu Serif', serif" font-size="12.2">l<tspan font-style="italic">ϵ</tspan><tspan font-style="italic" font-size="8.3" dy="3.2">x</tspan></text>
<text stroke="#000" stroke-width="0.12" x="164.5" y="229.5" font-family="'Liberation Serif', 'DejaVu Serif', serif" font-size="12.6" font-style="italic">z</text>
<path d="M164.8,221H172.6" stroke="#000" stroke-width="0.8"/>
<text stroke="#000" stroke-width="0.22" x="1.0" y="15.9" font-family="'Liberation Serif', 'DejaVu Serif', serif" font-size="22.5">(a)</text>
<text stroke="#000" stroke-width="0.22" transform="translate(148.3,15.9) scale(1.1,0.95)" font-family="'Liberation Serif', 'DejaVu Serif', serif" font-size="20" font-style="italic">α</text>
<text stroke="#000" stroke-width="0.22" transform="translate(167.2,17.35) scale(1.41,1)" font-family="'Liberation Serif', 'DejaVu Serif', serif" font-size="20.4">=</text>
<text stroke="#000" stroke-width="0.22" x="187.9" y="15.9" font-family="'Liberation Serif', 'DejaVu Serif', serif" font-size="20.4">0.06</text>
<clipPath id="clipb"><rect x="394.55" y="37.15" width="253.85" height="156.65"/></clipPath>
<g clip-path="url(#clipb)" fill="none" stroke-linejoin="round">
<path d="M394.55,99.80 L395.05,99.80 L395.55,99.80 L396.05,99.80 L396.55,99.80 L397.05,99.80 L397.55,99.80 L398.05,99.80 L398.55,99.80 L399.05,99.80 L399.55,99.80 L400.05,99.80 L400.55,99.80 L401.05,99.80 L401.55,99.80 L402.05,99.80 L402.55,99.80 L403.05,99.80 L403.55,99.80 L404.05,99.80 L404.55,99.80 L405.05,99.80 L405.55,99.80 L406.05,99.80 L406.55,99.80 L407.05,99.80 L407.55,99.80 L408.05,99.80 L408.55,99.80 L409.05,99.80 L409.55,99.80 L410.05,99.80 L410.55,99.80 L411.05,99.80 L411.55,99.80 L412.05,99.80 L412.55,99.80 L413.05,99.80 L413.55,99.80 L414.05,99.80 L414.55,99.80 L415.05,99.80 L415.55,99.80 L416.05,99.80 L416.55,99.80 L417.05,99.80 L417.55,99.80 L418.05,99.80 L418.55,99.80 L419.05,99.80 L419.55,99.80 L420.05,99.80 L420.55,99.80 L421.05,99.80 L421.55,99.80 L422.05,99.80 L422.55,99.80 L423.05,99.80 L423.55,99.80 L424.05,99.80 L424.55,99.80 L425.05,99.80 L425.55,99.80 L426.05,99.80 L426.55,99.80 L427.05,99.80 L427.55,99.80 L428.05,99.80 L428.55,99.80 L429.05,99.80 L429.55,99.80 L430.05,99.80 L430.55,99.80 L431.05,99.80 L431.55,99.80 L432.05,99.80 L432.55,99.80 L433.05,99.80 L433.55,99.80 L434.05,99.80 L434.55,99.80 L435.05,99.80 L435.55,99.80 L436.05,99.80 L436.55,99.80 L437.05,99.80 L437.55,99.80 L438.05,99.80 L438.55,99.80 L439.05,99.80 L439.55,99.80 L440.05,99.80 L440.55,99.80 L441.05,99.80 L441.55,99.80 L442.05,99.80 L442.55,99.80 L443.05,99.80 L443.55,99.80 L444.05,99.80 L444.55,99.80 L445.05,99.80 L445.55,99.80 L446.05,99.80 L446.55,99.80 L447.05,99.80 L447.55,99.80 L448.05,99.80 L448.55,99.80 L449.05,99.80 L449.55,99.80 L450.05,99.80 L450.55,99.80 L451.05,99.80 L451.55,99.80 L452.05,99.80 L452.55,99.80 L453.05,99.80 L453.55,99.80 L454.05,99.80 L454.55,99.80 L455.05,99.80 L455.55,99.80 L456.05,99.80 L456.55,99.80 L457.05,99.80 L457.55,99.80 L458.05,99.80 L458.55,99.80 L459.05,99.80 L459.55,99.80 L460.05,99.80 L460.55,99.80 L461.05,99.80 L461.55,99.80 L462.05,99.80 L462.55,99.80 L463.05,99.80 L463.55,99.80 L464.05,99.80 L464.55,99.80 L465.05,99.80 L465.55,99.80 L466.05,99.79 L466.55,99.77 L467.05,99.76 L467.55,99.74 L468.05,99.71 L468.55,99.69 L469.05,99.67 L469.55,99.64 L470.05,99.62 L470.55,99.59 L471.05,99.57 L471.55,99.55 L472.05,99.53 L472.55,99.50 L473.05,99.47 L473.55,99.43 L474.05,99.38 L474.55,99.31 L475.05,99.21 L475.55,99.09 L476.05,98.95 L476.55,98.79 L477.05,98.62 L477.55,98.42 L478.05,98.19 L478.55,97.93 L479.05,97.63 L479.55,97.30 L480.05,96.94 L480.55,96.55 L481.05,96.13 L481.55,95.69 L482.05,95.23 L482.55,94.75 L483.05,94.21 L483.55,93.59 L484.05,92.90 L484.55,92.14 L485.05,91.32 L485.55,90.44 L486.05,89.51 L486.55,88.45 L487.05,87.26 L487.55,85.97 L488.05,84.62 L488.55,83.24 L489.05,81.79 L489.55,80.23 L490.05,78.61 L490.55,77.00 L491.05,75.44 L491.55,73.98 L492.05,72.52 L492.55,71.09 L493.05,69.72 L493.55,68.44 L494.05,67.26 L494.55,66.17 L495.05,65.15 L495.55,64.18 L496.05,63.24 L496.55,62.31 L497.05,61.37 L497.55,60.42 L498.05,59.43 L498.55,58.44 L499.05,57.44 L499.55,56.47 L500.05,55.54 L500.55,54.67 L501.05,53.87 L501.55,53.15 L502.05,52.47 L502.55,51.82 L503.05,51.20 L503.55,50.62 L504.05,50.07 L504.55,49.56 L505.05,49.10 L505.55,48.68 L506.05,48.28 L506.55,47.89 L507.05,47.53 L507.55,47.18 L508.05,46.85 L508.55,46.54 L509.05,46.25 L509.55,45.98 L510.05,45.73 L510.55,45.50 L511.05,45.30 L511.55,45.10 L512.05,44.90 L512.55,44.72 L513.05,44.54 L513.55,44.38 L514.05,44.23 L514.55,44.09 L515.05,43.98 L515.55,43.88 L516.05,43.81 L516.55,43.75 L517.05,43.69 L517.55,43.63 L518.05,43.58 L518.55,43.54 L519.05,43.50 L519.55,43.46 L520.05,43.43 L520.55,43.41 L521.05,43.40 L521.55,43.40 L522.05,43.40 L522.55,43.42 L523.05,43.44 L523.55,43.47 L524.05,43.51 L524.55,43.55 L525.05,43.60 L525.55,43.65 L526.05,43.71 L526.55,43.76 L527.05,43.83 L527.55,43.91 L528.05,44.01 L528.55,44.13 L529.05,44.27 L529.55,44.43 L530.05,44.59 L530.55,44.77 L531.05,44.96 L531.55,45.16 L532.05,45.36 L532.55,45.57 L533.05,45.80 L533.55,46.06 L534.05,46.34 L534.55,46.63 L535.05,46.95 L535.55,47.28 L536.05,47.64 L536.55,48.01 L537.05,48.40 L537.55,48.80 L538.05,49.23 L538.55,49.71 L539.05,50.23 L539.55,50.79 L540.05,51.38 L540.55,52.01 L541.05,52.67 L541.55,53.36 L542.05,54.10 L542.55,54.92 L543.05,55.81 L543.55,56.76 L544.05,57.74 L544.55,58.74 L545.05,59.73 L545.55,60.71 L546.05,61.66 L546.55,62.59 L547.05,63.52 L547.55,64.46 L548.05,65.45 L548.55,66.49 L549.05,67.60 L549.55,68.81 L550.05,70.13 L550.55,71.52 L551.05,72.96 L551.55,74.42 L552.05,75.90 L552.55,77.48 L553.05,79.10 L553.55,80.71 L554.05,82.24 L554.55,83.65 L555.05,85.03 L555.55,86.37 L556.05,87.63 L556.55,88.79 L557.05,89.80 L557.55,90.71 L558.05,91.57 L558.55,92.37 L559.05,93.11 L559.55,93.79 L560.05,94.38 L560.55,94.90 L561.05,95.37 L561.55,95.83 L562.05,96.26 L562.55,96.67 L563.05,97.05 L563.55,97.40 L564.05,97.72 L564.55,98.01 L565.05,98.27 L565.55,98.49 L566.05,98.67 L566.55,98.84 L567.05,98.99 L567.55,99.13 L568.05,99.25 L568.55,99.34 L569.05,99.40 L569.55,99.44 L570.05,99.48 L570.55,99.51 L571.05,99.53 L571.55,99.56 L572.05,99.58 L572.55,99.60 L573.05,99.62 L573.55,99.65 L574.05,99.67 L574.55,99.70 L575.05,99.72 L575.55,99.74 L576.05,99.76 L576.55,99.78 L577.05,99.79 L577.55,99.80 L578.05,99.80 L578.55,99.80 L579.05,99.80 L579.55,99.80 L580.05,99.80 L580.55,99.80 L581.05,99.80 L581.55,99.80 L582.05,99.80 L582.55,99.80 L583.05,99.80 L583.55,99.80 L584.05,99.80 L584.55,99.80 L585.05,99.80 L585.55,99.80 L586.05,99.80 L586.55,99.80 L587.05,99.80 L587.55,99.80 L588.05,99.80 L588.55,99.80 L589.05,99.80 L589.55,99.80 L590.05,99.80 L590.55,99.80 L591.05,99.80 L591.55,99.80 L592.05,99.80 L592.55,99.80 L593.05,99.80 L593.55,99.80 L594.05,99.80 L594.55,99.80 L595.05,99.80 L595.55,99.80 L596.05,99.80 L596.55,99.80 L597.05,99.80 L597.55,99.80 L598.05,99.80 L598.55,99.80 L599.05,99.80 L599.55,99.80 L600.05,99.80 L600.55,99.80 L601.05,99.80 L601.55,99.80 L602.05,99.80 L602.55,99.80 L603.05,99.80 L603.55,99.80 L604.05,99.80 L604.55,99.80 L605.05,99.80 L605.55,99.80 L606.05,99.80 L606.55,99.80 L607.05,99.80 L607.55,99.80 L608.05,99.80 L608.55,99.80 L609.05,99.80 L609.55,99.80 L610.05,99.80 L610.55,99.80 L611.05,99.80 L611.55,99.80 L612.05,99.80 L612.55,99.80 L613.05,99.80 L613.55,99.80 L614.05,99.80 L614.55,99.80 L615.05,99.80 L615.55,99.80 L616.05,99.80 L616.55,99.80 L617.05,99.80 L617.55,99.80 L618.05,99.80 L618.55,99.80 L619.05,99.80 L619.55,99.80 L620.05,99.80 L620.55,99.80 L621.05,99.80 L621.55,99.80 L622.05,99.80 L622.55,99.80 L623.05,99.80 L623.55,99.80 L624.05,99.80 L624.55,99.80 L625.05,99.80 L625.55,99.80 L626.05,99.80 L626.55,99.80 L627.05,99.80 L627.55,99.80 L628.05,99.80 L628.55,99.80 L629.05,99.80 L629.55,99.80 L630.05,99.80 L630.55,99.80 L631.05,99.80 L631.55,99.80 L632.05,99.80 L632.55,99.80 L633.05,99.80 L633.55,99.80 L634.05,99.80 L634.55,99.80 L635.05,99.80 L635.55,99.80 L636.05,99.80 L636.55,99.80 L637.05,99.80 L637.55,99.80 L638.05,99.80 L638.55,99.80 L639.05,99.80 L639.55,99.80 L640.05,99.80 L640.55,99.80 L641.05,99.80 L641.55,99.80 L642.05,99.80 L642.55,99.80 L643.05,99.80 L643.55,99.80 L644.05,99.80 L644.55,99.80 L645.05,99.80 L645.55,99.80 L646.05,99.80 L646.55,99.80 L647.05,99.80 L647.55,99.80 L648.05,99.80 L648.40,99.80" stroke="#22ee00" stroke-width="2.2" stroke-dasharray="9.2 5.65 2.4 5.65" stroke-dashoffset="11.15" stroke-linecap="round"/>
<path d="M394.55,99.80 L395.05,99.80 L395.55,99.80 L396.05,99.80 L396.55,99.80 L397.05,99.80 L397.55,99.80 L398.05,99.80 L398.55,99.80 L399.05,99.80 L399.55,99.80 L400.05,99.80 L400.55,99.80 L401.05,99.80 L401.55,99.80 L402.05,99.80 L402.55,99.80 L403.05,99.80 L403.55,99.80 L404.05,99.80 L404.55,99.80 L405.05,99.80 L405.55,99.80 L406.05,99.80 L406.55,99.80 L407.05,99.81 L407.55,99.81 L408.05,99.81 L408.55,99.81 L409.05,99.81 L409.55,99.81 L410.05,99.81 L410.55,99.81 L411.05,99.81 L411.55,99.81 L412.05,99.81 L412.55,99.81 L413.05,99.81 L413.55,99.81 L414.05,99.81 L414.55,99.81 L415.05,99.81 L415.55,99.82 L416.05,99.82 L416.55,99.82 L417.05,99.82 L417.55,99.82 L418.05,99.82 L418.55,99.82 L419.05,99.82 L419.55,99.82 L420.05,99.82 L420.55,99.83 L421.05,99.83 L421.55,99.83 L422.05,99.83 L422.55,99.83 L423.05,99.83 L423.55,99.83 L424.05,99.83 L424.55,99.83 L425.05,99.84 L425.55,99.84 L426.05,99.84 L426.55,99.84 L427.05,99.84 L427.55,99.84 L428.05,99.84 L428.55,99.85 L429.05,99.85 L429.55,99.85 L430.05,99.85 L430.55,99.85 L431.05,99.86 L431.55,99.86 L432.05,99.87 L432.55,99.87 L433.05,99.88 L433.55,99.89 L434.05,99.90 L434.55,99.92 L435.05,99.93 L435.55,99.94 L436.05,99.96 L436.55,99.98 L437.05,99.99 L437.55,100.01 L438.05,100.03 L438.55,100.05 L439.05,100.07 L439.55,100.10 L440.05,100.12 L440.55,100.15 L441.05,100.17 L441.55,100.20 L442.05,100.23 L442.55,100.27 L443.05,100.32 L443.55,100.38 L444.05,100.45 L444.55,100.52 L445.05,100.60 L445.55,100.69 L446.05,100.77 L446.55,100.86 L447.05,100.95 L447.55,101.05 L448.05,101.15 L448.55,101.25 L449.05,101.37 L449.55,101.49 L450.05,101.62 L450.55,101.75 L451.05,101.89 L451.55,102.03 L452.05,102.18 L452.55,102.33 L453.05,102.48 L453.55,102.65 L454.05,102.82 L454.55,102.99 L455.05,103.18 L455.55,103.38 L456.05,103.58 L456.55,103.78 L457.05,103.99 L457.55,104.21 L458.05,104.43 L458.55,104.65 L459.05,104.87 L459.55,105.09 L460.05,105.32 L460.55,105.55 L461.05,105.78 L461.55,106.02 L462.05,106.27 L462.55,106.52 L463.05,106.78 L463.55,107.05 L464.05,107.33 L464.55,107.61 L465.05,107.91 L465.55,108.21 L466.05,108.53 L466.55,108.85 L467.05,109.18 L467.55,109.53 L468.05,109.88 L468.55,110.25 L469.05,110.63 L469.55,111.02 L470.05,111.41 L470.55,111.82 L471.05,112.25 L471.55,112.70 L472.05,113.16 L472.55,113.64 L473.05,114.13 L473.55,114.63 L474.05,115.15 L474.55,115.68 L475.05,116.22 L475.55,116.77 L476.05,117.33 L476.55,117.90 L477.05,118.48 L477.55,119.08 L478.05,119.69 L478.55,120.32 L479.05,120.96 L479.55,121.62 L480.05,122.29 L480.55,122.97 L481.05,123.66 L481.55,124.36 L482.05,125.07 L482.55,125.80 L483.05,126.56 L483.55,127.34 L484.05,128.14 L484.55,128.95 L485.05,129.77 L485.55,130.60 L486.05,131.43 L486.55,132.26 L487.05,133.08 L487.55,133.90 L488.05,134.70 L488.55,135.50 L489.05,136.29 L489.55,137.07 L490.05,137.86 L490.55,138.65 L491.05,139.44 L491.55,140.25 L492.05,141.06 L492.55,141.88 L493.05,142.73 L493.55,143.59 L494.05,144.48 L494.55,145.40 L495.05,146.34 L495.55,147.29 L496.05,148.24 L496.55,149.17 L497.05,150.09 L497.55,150.99 L498.05,151.89 L498.55,152.78 L499.05,153.66 L499.55,154.54 L500.05,155.40 L500.55,156.25 L501.05,157.09 L501.55,157.92 L502.05,158.73 L502.55,159.54 L503.05,160.34 L503.55,161.15 L504.05,161.95 L504.55,162.76 L505.05,163.58 L505.55,164.42 L506.05,165.27 L506.55,166.12 L507.05,166.97 L507.55,167.80 L508.05,168.61 L508.55,169.38 L509.05,170.13 L509.55,170.90 L510.05,171.66 L510.55,172.40 L511.05,173.12 L511.55,173.80 L512.05,174.44 L512.55,175.03 L513.05,175.55 L513.55,176.03 L514.05,176.50 L514.55,176.96 L515.05,177.39 L515.55,177.80 L516.05,178.17 L516.55,178.50 L517.05,178.78 L517.55,179.01 L518.05,179.18 L518.55,179.35 L519.05,179.50 L519.55,179.64 L520.05,179.75 L520.55,179.84 L521.05,179.89 L521.55,179.90 L522.05,179.88 L522.55,179.82 L523.05,179.72 L523.55,179.60 L524.05,179.46 L524.55,179.30 L525.05,179.13 L525.55,178.95 L526.05,178.70 L526.55,178.41 L527.05,178.06 L527.55,177.68 L528.05,177.27 L528.55,176.83 L529.05,176.36 L529.55,175.89 L530.05,175.40 L530.55,174.86 L531.05,174.25 L531.55,173.60 L532.05,172.90 L532.55,172.18 L533.05,171.43 L533.55,170.67 L534.05,169.91 L534.55,169.15 L535.05,168.37 L535.55,167.55 L536.05,166.71 L536.55,165.86 L537.05,165.01 L537.55,164.16 L538.05,163.34 L538.55,162.52 L539.05,161.71 L539.55,160.91 L540.05,160.10 L540.55,159.30 L541.05,158.49 L541.55,157.67 L542.05,156.84 L542.55,156.00 L543.05,155.14 L543.55,154.28 L544.05,153.40 L544.55,152.51 L545.05,151.62 L545.55,150.72 L546.05,149.82 L546.55,148.90 L547.05,147.95 L547.55,147.00 L548.05,146.06 L548.55,145.12 L549.05,144.21 L549.55,143.33 L550.05,142.47 L550.55,141.64 L551.05,140.81 L551.55,140.01 L552.05,139.21 L552.55,138.41 L553.05,137.63 L553.55,136.84 L554.05,136.05 L554.55,135.26 L555.05,134.46 L555.55,133.65 L556.05,132.83 L556.55,132.01 L557.05,131.18 L557.55,130.35 L558.05,129.52 L558.55,128.70 L559.05,127.90 L559.55,127.11 L560.05,126.33 L560.55,125.58 L561.05,124.86 L561.55,124.15 L562.05,123.45 L562.55,122.76 L563.05,122.09 L563.55,121.42 L564.05,120.77 L564.55,120.13 L565.05,119.51 L565.55,118.90 L566.05,118.31 L566.55,117.73 L567.05,117.16 L567.55,116.61 L568.05,116.06 L568.55,115.52 L569.05,115.00 L569.55,114.48 L570.05,113.98 L570.55,113.49 L571.05,113.02 L571.55,112.56 L572.05,112.12 L572.55,111.70 L573.05,111.29 L573.55,110.90 L574.05,110.51 L574.55,110.14 L575.05,109.78 L575.55,109.42 L576.05,109.08 L576.55,108.75 L577.05,108.43 L577.55,108.12 L578.05,107.82 L578.55,107.53 L579.05,107.24 L579.55,106.97 L580.05,106.71 L580.55,106.45 L581.05,106.20 L581.55,105.95 L582.05,105.71 L582.55,105.48 L583.05,105.25 L583.55,105.02 L584.05,104.80 L584.55,104.58 L585.05,104.36 L585.55,104.14 L586.05,103.93 L586.55,103.72 L587.05,103.52 L587.55,103.32 L588.05,103.12 L588.55,102.94 L589.05,102.76 L589.55,102.60 L590.05,102.44 L590.55,102.28 L591.05,102.13 L591.55,101.99 L592.05,101.85 L592.55,101.71 L593.05,101.58 L593.55,101.45 L594.05,101.33 L594.55,101.22 L595.05,101.12 L595.55,101.02 L596.05,100.93 L596.55,100.84 L597.05,100.75 L597.55,100.66 L598.05,100.58 L598.55,100.50 L599.05,100.43 L599.55,100.36 L600.05,100.31 L600.55,100.26 L601.05,100.22 L601.55,100.19 L602.05,100.16 L602.55,100.14 L603.05,100.11 L603.55,100.09 L604.05,100.07 L604.55,100.05 L605.05,100.03 L605.55,100.01 L606.05,99.99 L606.55,99.97 L607.05,99.96 L607.55,99.94 L608.05,99.93 L608.55,99.91 L609.05,99.90 L609.55,99.89 L610.05,99.88 L610.55,99.87 L611.05,99.87 L611.55,99.86 L612.05,99.85 L612.55,99.85 L613.05,99.85 L613.55,99.85 L614.05,99.85 L614.55,99.85 L615.05,99.84 L615.55,99.84 L616.05,99.84 L616.55,99.84 L617.05,99.84 L617.55,99.84 L618.05,99.84 L618.55,99.83 L619.05,99.83 L619.55,99.83 L620.05,99.83 L620.55,99.83 L621.05,99.83 L621.55,99.83 L622.05,99.83 L622.55,99.82 L623.05,99.82 L623.55,99.82 L624.05,99.82 L624.55,99.82 L625.05,99.82 L625.55,99.82 L626.05,99.82 L626.55,99.82 L627.05,99.82 L627.55,99.82 L628.05,99.81 L628.55,99.81 L629.05,99.81 L629.55,99.81 L630.05,99.81 L630.55,99.81 L631.05,99.81 L631.55,99.81 L632.05,99.81 L632.55,99.81 L633.05,99.81 L633.55,99.81 L634.05,99.81 L634.55,99.81 L635.05,99.81 L635.55,99.81 L636.05,99.81 L636.55,99.80 L637.05,99.80 L637.55,99.80 L638.05,99.80 L638.55,99.80 L639.05,99.80 L639.55,99.80 L640.05,99.80 L640.55,99.80 L641.05,99.80 L641.55,99.80 L642.05,99.80 L642.55,99.80 L643.05,99.80 L643.55,99.80 L644.05,99.80 L644.55,99.80 L645.05,99.80 L645.55,99.80 L646.05,99.80 L646.55,99.80 L647.05,99.80 L647.55,99.80 L648.05,99.80 L648.40,99.80" stroke="#ff0000" stroke-width="2.2" stroke-dasharray="7.0 5.7" stroke-dashoffset="6.70" stroke-linecap="round"/>
<path d="M394.55,117.77 L395.05,117.88 L395.55,118.00 L396.05,118.11 L396.55,118.23 L397.05,118.34 L397.55,118.44 L398.05,118.55 L398.55,118.65 L399.05,118.76 L399.55,118.86 L400.05,118.96 L400.55,119.06 L401.05,119.15 L401.55,119.25 L402.05,119.34 L402.55,119.44 L403.05,119.53 L403.55,119.62 L404.05,119.71 L404.55,119.80 L405.05,119.89 L405.55,119.98 L406.05,120.06 L406.55,120.15 L407.05,120.23 L407.55,120.32 L408.05,120.40 L408.55,120.49 L409.05,120.57 L409.55,120.65 L410.05,120.73 L410.55,120.82 L411.05,120.90 L411.55,120.98 L412.05,121.06 L412.55,121.14 L413.05,121.23 L413.55,121.31 L414.05,121.39 L414.55,121.47 L415.05,121.56 L415.55,121.64 L416.05,121.72 L416.55,121.81 L417.05,121.89 L417.55,121.98 L418.05,122.06 L418.55,122.15 L419.05,122.24 L419.55,122.33 L420.05,122.42 L420.55,122.51 L421.05,122.60 L421.55,122.69 L422.05,122.79 L422.55,122.88 L423.05,122.98 L423.55,123.07 L424.05,123.17 L424.55,123.27 L425.05,123.38 L425.55,123.48 L426.05,123.58 L426.55,123.69 L427.05,123.80 L427.55,123.91 L428.05,124.02 L428.55,124.14 L429.05,124.25 L429.55,124.37 L430.05,124.49 L430.55,124.62 L431.05,124.74 L431.55,124.87 L432.05,125.00 L432.55,125.13 L433.05,125.26 L433.55,125.40 L434.05,125.53 L434.55,125.67 L435.05,125.81 L435.55,125.96 L436.05,126.10 L436.55,126.24 L437.05,126.39 L437.55,126.54 L438.05,126.69 L438.55,126.84 L439.05,126.99 L439.55,127.15 L440.05,127.30 L440.55,127.46 L441.05,127.62 L441.55,127.78 L442.05,127.94 L442.55,128.10 L443.05,128.26 L443.55,128.43 L444.05,128.59 L444.55,128.76 L445.05,128.92 L445.55,129.09 L446.05,129.26 L446.55,129.43 L447.05,129.59 L447.55,129.76 L448.05,129.93 L448.55,130.11 L449.05,130.28 L449.55,130.45 L450.05,130.62 L450.55,130.79 L451.05,130.97 L451.55,131.14 L452.05,131.31 L452.55,131.48 L453.05,131.66 L453.55,131.83 L454.05,132.00 L454.55,132.18 L455.05,132.35 L455.55,132.53 L456.05,132.70 L456.55,132.88 L457.05,133.06 L457.55,133.23 L458.05,133.41 L458.55,133.59 L459.05,133.77 L459.55,133.96 L460.05,134.14 L460.55,134.33 L461.05,134.52 L461.55,134.70 L462.05,134.90 L462.55,135.09 L463.05,135.29 L463.55,135.48 L464.05,135.69 L464.55,135.89 L465.05,136.09 L465.55,136.30 L466.05,136.51 L466.55,136.73 L467.05,136.95 L467.55,137.17 L468.05,137.39 L468.55,137.62 L469.05,137.85 L469.55,138.09 L470.05,138.33 L470.55,138.57 L471.05,138.82 L471.55,139.07 L472.05,139.32 L472.55,139.58 L473.05,139.85 L473.55,140.11 L474.05,140.39 L474.55,140.67 L475.05,140.95 L475.55,141.24 L476.05,141.53 L476.55,141.83 L477.05,142.13 L477.55,142.44 L478.05,142.76 L478.55,143.08 L479.05,143.41 L479.55,143.74 L480.05,144.08 L480.55,144.42 L481.05,144.77 L481.55,145.12 L482.05,145.48 L482.55,145.84 L483.05,146.21 L483.55,146.58 L484.05,146.96 L484.55,147.34 L485.05,147.73 L485.55,148.12 L486.05,148.52 L486.55,148.92 L487.05,149.33 L487.55,149.74 L488.05,150.16 L488.55,150.58 L489.05,151.00 L489.55,151.43 L490.05,151.87 L490.55,152.30 L491.05,152.75 L491.55,153.19 L492.05,153.64 L492.55,154.10 L493.05,154.56 L493.55,155.02 L494.05,155.49 L494.55,155.96 L495.05,156.43 L495.55,156.91 L496.05,157.39 L496.55,157.88 L497.05,158.37 L497.55,158.86 L498.05,159.35 L498.55,159.85 L499.05,160.36 L499.55,160.86 L500.05,161.38 L500.55,161.89 L501.05,162.41 L501.55,162.93 L502.05,163.45 L502.55,163.97 L503.05,164.50 L503.55,165.04 L504.05,165.57 L504.55,166.11 L505.05,166.65 L505.55,167.19 L506.05,167.74 L506.55,168.29 L507.05,168.84 L507.55,169.39 L508.05,169.94 L508.55,170.49 L509.05,171.03 L509.55,171.57 L510.05,172.11 L510.55,172.63 L511.05,173.15 L511.55,173.66 L512.05,174.16 L512.55,174.64 L513.05,175.11 L513.55,175.56 L514.05,176.00 L514.55,176.42 L515.05,176.82 L515.55,177.20 L516.05,177.56 L516.55,177.90 L517.05,178.21 L517.55,178.49 L518.05,178.75 L518.55,178.98 L519.05,179.18 L519.55,179.35 L520.05,179.49 L520.55,179.59 L521.05,179.66 L521.55,179.69 L522.05,179.69 L522.55,179.65 L523.05,179.57 L523.55,179.47 L524.05,179.32 L524.55,179.15 L525.05,178.95 L525.55,178.71 L526.05,178.45 L526.55,178.17 L527.05,177.85 L527.55,177.51 L528.05,177.15 L528.55,176.77 L529.05,176.36 L529.55,175.93 L530.05,175.49 L530.55,175.02 L531.05,174.54 L531.55,174.05 L532.05,173.54 L532.55,173.01 L533.05,172.48 L533.55,171.93 L534.05,171.37 L534.55,170.80 L535.05,170.23 L535.55,169.64 L536.05,169.06 L536.55,168.46 L537.05,167.87 L537.55,167.27 L538.05,166.67 L538.55,166.07 L539.05,165.47 L539.55,164.88 L540.05,164.28 L540.55,163.70 L541.05,163.11 L541.55,162.54 L542.05,161.97 L542.55,161.41 L543.05,160.86 L543.55,160.32 L544.05,159.79 L544.55,159.27 L545.05,158.76 L545.55,158.25 L546.05,157.76 L546.55,157.27 L547.05,156.79 L547.55,156.32 L548.05,155.85 L548.55,155.39 L549.05,154.94 L549.55,154.50 L550.05,154.06 L550.55,153.62 L551.05,153.20 L551.55,152.77 L552.05,152.35 L552.55,151.94 L553.05,151.53 L553.55,151.12 L554.05,150.72 L554.55,150.32 L555.05,149.93 L555.55,149.53 L556.05,149.15 L556.55,148.76 L557.05,148.38 L557.55,148.00 L558.05,147.63 L558.55,147.26 L559.05,146.89 L559.55,146.53 L560.05,146.17 L560.55,145.81 L561.05,145.46 L561.55,145.12 L562.05,144.78 L562.55,144.44 L563.05,144.10 L563.55,143.77 L564.05,143.45 L564.55,143.13 L565.05,142.81 L565.55,142.50 L566.05,142.20 L566.55,141.90 L567.05,141.60 L567.55,141.31 L568.05,141.02 L568.55,140.74 L569.05,140.46 L569.55,140.18 L570.05,139.91 L570.55,139.64 L571.05,139.38 L571.55,139.12 L572.05,138.87 L572.55,138.62 L573.05,138.37 L573.55,138.13 L574.05,137.89 L574.55,137.65 L575.05,137.42 L575.55,137.19 L576.05,136.96 L576.55,136.74 L577.05,136.52 L577.55,136.30 L578.05,136.08 L578.55,135.87 L579.05,135.66 L579.55,135.46 L580.05,135.26 L580.55,135.05 L581.05,134.86 L581.55,134.66 L582.05,134.47 L582.55,134.28 L583.05,134.09 L583.55,133.90 L584.05,133.72 L584.55,133.54 L585.05,133.35 L585.55,133.17 L586.05,132.99 L586.55,132.82 L587.05,132.64 L587.55,132.46 L588.05,132.29 L588.55,132.11 L589.05,131.93 L589.55,131.75 L590.05,131.58 L590.55,131.40 L591.05,131.22 L591.55,131.04 L592.05,130.86 L592.55,130.68 L593.05,130.50 L593.55,130.32 L594.05,130.14 L594.55,129.96 L595.05,129.78 L595.55,129.60 L596.05,129.42 L596.55,129.25 L597.05,129.07 L597.55,128.90 L598.05,128.72 L598.55,128.55 L599.05,128.38 L599.55,128.21 L600.05,128.05 L600.55,127.88 L601.05,127.72 L601.55,127.56 L602.05,127.41 L602.55,127.25 L603.05,127.10 L603.55,126.95 L604.05,126.80 L604.55,126.66 L605.05,126.51 L605.55,126.37 L606.05,126.23 L606.55,126.10 L607.05,125.96 L607.55,125.83 L608.05,125.70 L608.55,125.57 L609.05,125.44 L609.55,125.32 L610.05,125.19 L610.55,125.07 L611.05,124.95 L611.55,124.83 L612.05,124.72 L612.55,124.60 L613.05,124.49 L613.55,124.38 L614.05,124.26 L614.55,124.15 L615.05,124.05 L615.55,123.94 L616.05,123.83 L616.55,123.73 L617.05,123.63 L617.55,123.53 L618.05,123.42 L618.55,123.32 L619.05,123.23 L619.55,123.13 L620.05,123.03 L620.55,122.94 L621.05,122.84 L621.55,122.75 L622.05,122.65 L622.55,122.56 L623.05,122.47 L623.55,122.38 L624.05,122.29 L624.55,122.20 L625.05,122.11 L625.55,122.02 L626.05,121.93 L626.55,121.84 L627.05,121.75 L627.55,121.66 L628.05,121.58 L628.55,121.49 L629.05,121.40 L629.55,121.32 L630.05,121.23 L630.55,121.14 L631.05,121.06 L631.55,120.97 L632.05,120.88 L632.55,120.80 L633.05,120.71 L633.55,120.62 L634.05,120.54 L634.55,120.45 L635.05,120.36 L635.55,120.27 L636.05,120.18 L636.55,120.10 L637.05,120.01 L637.55,119.92 L638.05,119.83 L638.55,119.74 L639.05,119.64 L639.55,119.55 L640.05,119.46 L640.55,119.36 L641.05,119.27 L641.55,119.18 L642.05,119.08 L642.55,118.98 L643.05,118.88 L643.55,118.78 L644.05,118.68 L644.55,118.58 L645.05,118.48 L645.55,118.38 L646.05,118.27 L646.55,118.17 L647.05,118.06 L647.55,117.95 L648.05,117.84 L648.40,117.76" stroke="#1428ff" stroke-width="2.3" stroke-dasharray="2.6 1.6"/>
<path d="M394.55,121.92 L395.05,122.06 L395.55,122.19 L396.05,122.32 L396.55,122.45 L397.05,122.58 L397.55,122.71 L398.05,122.84 L398.55,122.96 L399.05,123.09 L399.55,123.21 L400.05,123.33 L400.55,123.45 L401.05,123.57 L401.55,123.69 L402.05,123.80 L402.55,123.92 L403.05,124.03 L403.55,124.15 L404.05,124.26 L404.55,124.37 L405.05,124.48 L405.55,124.59 L406.05,124.70 L406.55,124.80 L407.05,124.91 L407.55,125.01 L408.05,125.12 L408.55,125.22 L409.05,125.33 L409.55,125.43 L410.05,125.53 L410.55,125.63 L411.05,125.73 L411.55,125.83 L412.05,125.93 L412.55,126.03 L413.05,126.13 L413.55,126.23 L414.05,126.32 L414.55,126.42 L415.05,126.52 L415.55,126.61 L416.05,126.71 L416.55,126.81 L417.05,126.90 L417.55,127.00 L418.05,127.09 L418.55,127.19 L419.05,127.28 L419.55,127.38 L420.05,127.47 L420.55,127.57 L421.05,127.67 L421.55,127.76 L422.05,127.86 L422.55,127.95 L423.05,128.05 L423.55,128.14 L424.05,128.24 L424.55,128.34 L425.05,128.43 L425.55,128.53 L426.05,128.63 L426.55,128.73 L427.05,128.83 L427.55,128.92 L428.05,129.02 L428.55,129.12 L429.05,129.23 L429.55,129.33 L430.05,129.43 L430.55,129.53 L431.05,129.63 L431.55,129.74 L432.05,129.84 L432.55,129.95 L433.05,130.05 L433.55,130.16 L434.05,130.27 L434.55,130.38 L435.05,130.49 L435.55,130.60 L436.05,130.71 L436.55,130.83 L437.05,130.94 L437.55,131.06 L438.05,131.17 L438.55,131.29 L439.05,131.41 L439.55,131.53 L440.05,131.65 L440.55,131.77 L441.05,131.90 L441.55,132.02 L442.05,132.15 L442.55,132.28 L443.05,132.41 L443.55,132.54 L444.05,132.67 L444.55,132.81 L445.05,132.95 L445.55,133.08 L446.05,133.22 L446.55,133.37 L447.05,133.51 L447.55,133.65 L448.05,133.80 L448.55,133.95 L449.05,134.10 L449.55,134.25 L450.05,134.41 L450.55,134.56 L451.05,134.72 L451.55,134.88 L452.05,135.04 L452.55,135.21 L453.05,135.38 L453.55,135.54 L454.05,135.72 L454.55,135.89 L455.05,136.06 L455.55,136.24 L456.05,136.42 L456.55,136.61 L457.05,136.79 L457.55,136.98 L458.05,137.17 L458.55,137.36 L459.05,137.56 L459.55,137.75 L460.05,137.95 L460.55,138.16 L461.05,138.36 L461.55,138.57 L462.05,138.78 L462.55,139.00 L463.05,139.21 L463.55,139.43 L464.05,139.65 L464.55,139.88 L465.05,140.11 L465.55,140.34 L466.05,140.57 L466.55,140.81 L467.05,141.05 L467.55,141.29 L468.05,141.54 L468.55,141.79 L469.05,142.04 L469.55,142.30 L470.05,142.56 L470.55,142.82 L471.05,143.09 L471.55,143.36 L472.05,143.63 L472.55,143.90 L473.05,144.18 L473.55,144.47 L474.05,144.75 L474.55,145.04 L475.05,145.34 L475.55,145.63 L476.05,145.94 L476.55,146.24 L477.05,146.55 L477.55,146.86 L478.05,147.18 L478.55,147.50 L479.05,147.82 L479.55,148.14 L480.05,148.47 L480.55,148.81 L481.05,149.14 L481.55,149.48 L482.05,149.82 L482.55,150.17 L483.05,150.51 L483.55,150.86 L484.05,151.21 L484.55,151.57 L485.05,151.92 L485.55,152.28 L486.05,152.64 L486.55,153.00 L487.05,153.36 L487.55,153.73 L488.05,154.09 L488.55,154.46 L489.05,154.83 L489.55,155.20 L490.05,155.57 L490.55,155.94 L491.05,156.31 L491.55,156.68 L492.05,157.05 L492.55,157.43 L493.05,157.80 L493.55,158.17 L494.05,158.55 L494.55,158.92 L495.05,159.29 L495.55,159.67 L496.05,160.04 L496.55,160.41 L497.05,160.78 L497.55,161.15 L498.05,161.52 L498.55,161.89 L499.05,162.26 L499.55,162.62 L500.05,162.99 L500.55,163.35 L501.05,163.71 L501.55,164.07 L502.05,164.43 L502.55,164.78 L503.05,165.14 L503.55,165.49 L504.05,165.84 L504.55,166.19 L505.05,166.53 L505.55,166.87 L506.05,167.21 L506.55,167.55 L507.05,167.88 L507.55,168.21 L508.05,168.53 L508.55,168.85 L509.05,169.17 L509.55,169.48 L510.05,169.78 L510.55,170.07 L511.05,170.36 L511.55,170.64 L512.05,170.92 L512.55,171.18 L513.05,171.43 L513.55,171.68 L514.05,171.91 L514.55,172.13 L515.05,172.34 L515.55,172.54 L516.05,172.73 L516.55,172.90 L517.05,173.06 L517.55,173.21 L518.05,173.34 L518.55,173.45 L519.05,173.56 L519.55,173.64 L520.05,173.71 L520.55,173.76 L521.05,173.79 L521.55,173.81 L522.05,173.81 L522.55,173.78 L523.05,173.75 L523.55,173.69 L524.05,173.62 L524.55,173.53 L525.05,173.42 L525.55,173.30 L526.05,173.17 L526.55,173.02 L527.05,172.86 L527.55,172.68 L528.05,172.49 L528.55,172.29 L529.05,172.07 L529.55,171.84 L530.05,171.61 L530.55,171.36 L531.05,171.09 L531.55,170.82 L532.05,170.54 L532.55,170.25 L533.05,169.96 L533.55,169.65 L534.05,169.33 L534.55,169.01 L535.05,168.68 L535.55,168.35 L536.05,168.01 L536.55,167.66 L537.05,167.30 L537.55,166.95 L538.05,166.58 L538.55,166.22 L539.05,165.85 L539.55,165.47 L540.05,165.10 L540.55,164.72 L541.05,164.34 L541.55,163.96 L542.05,163.57 L542.55,163.19 L543.05,162.81 L543.55,162.43 L544.05,162.04 L544.55,161.66 L545.05,161.28 L545.55,160.89 L546.05,160.51 L546.55,160.13 L547.05,159.75 L547.55,159.37 L548.05,158.99 L548.55,158.61 L549.05,158.23 L549.55,157.86 L550.05,157.48 L550.55,157.11 L551.05,156.73 L551.55,156.36 L552.05,155.99 L552.55,155.62 L553.05,155.25 L553.55,154.88 L554.05,154.52 L554.55,154.15 L555.05,153.79 L555.55,153.43 L556.05,153.07 L556.55,152.72 L557.05,152.36 L557.55,152.01 L558.05,151.66 L558.55,151.32 L559.05,150.97 L559.55,150.63 L560.05,150.29 L560.55,149.95 L561.05,149.62 L561.55,149.29 L562.05,148.96 L562.55,148.63 L563.05,148.31 L563.55,147.99 L564.05,147.67 L564.55,147.36 L565.05,147.05 L565.55,146.74 L566.05,146.44 L566.55,146.14 L567.05,145.84 L567.55,145.55 L568.05,145.26 L568.55,144.97 L569.05,144.69 L569.55,144.41 L570.05,144.14 L570.55,143.86 L571.05,143.59 L571.55,143.33 L572.05,143.06 L572.55,142.80 L573.05,142.54 L573.55,142.29 L574.05,142.04 L574.55,141.79 L575.05,141.55 L575.55,141.30 L576.05,141.06 L576.55,140.83 L577.05,140.59 L577.55,140.36 L578.05,140.13 L578.55,139.91 L579.05,139.69 L579.55,139.47 L580.05,139.25 L580.55,139.03 L581.05,138.82 L581.55,138.61 L582.05,138.41 L582.55,138.20 L583.05,138.00 L583.55,137.80 L584.05,137.60 L584.55,137.41 L585.05,137.22 L585.55,137.03 L586.05,136.84 L586.55,136.65 L587.05,136.47 L587.55,136.29 L588.05,136.11 L588.55,135.94 L589.05,135.76 L589.55,135.59 L590.05,135.42 L590.55,135.25 L591.05,135.09 L591.55,134.92 L592.05,134.76 L592.55,134.60 L593.05,134.44 L593.55,134.29 L594.05,134.13 L594.55,133.98 L595.05,133.83 L595.55,133.68 L596.05,133.53 L596.55,133.39 L597.05,133.24 L597.55,133.10 L598.05,132.96 L598.55,132.82 L599.05,132.69 L599.55,132.55 L600.05,132.42 L600.55,132.28 L601.05,132.15 L601.55,132.02 L602.05,131.89 L602.55,131.77 L603.05,131.64 L603.55,131.52 L604.05,131.39 L604.55,131.27 L605.05,131.15 L605.55,131.03 L606.05,130.91 L606.55,130.79 L607.05,130.68 L607.55,130.56 L608.05,130.45 L608.55,130.34 L609.05,130.22 L609.55,130.11 L610.05,130.00 L610.55,129.89 L611.05,129.78 L611.55,129.68 L612.05,129.57 L612.55,129.46 L613.05,129.36 L613.55,129.25 L614.05,129.15 L614.55,129.05 L615.05,128.94 L615.55,128.84 L616.05,128.74 L616.55,128.64 L617.05,128.54 L617.55,128.44 L618.05,128.34 L618.55,128.24 L619.05,128.14 L619.55,128.04 L620.05,127.94 L620.55,127.85 L621.05,127.75 L621.55,127.65 L622.05,127.55 L622.55,127.46 L623.05,127.36 L623.55,127.26 L624.05,127.17 L624.55,127.07 L625.05,126.97 L625.55,126.88 L626.05,126.78 L626.55,126.68 L627.05,126.59 L627.55,126.49 L628.05,126.39 L628.55,126.30 L629.05,126.20 L629.55,126.10 L630.05,126.01 L630.55,125.91 L631.05,125.81 L631.55,125.71 L632.05,125.61 L632.55,125.51 L633.05,125.41 L633.55,125.31 L634.05,125.21 L634.55,125.11 L635.05,125.01 L635.55,124.91 L636.05,124.80 L636.55,124.70 L637.05,124.60 L637.55,124.49 L638.05,124.39 L638.55,124.28 L639.05,124.17 L639.55,124.06 L640.05,123.96 L640.55,123.85 L641.05,123.74 L641.55,123.62 L642.05,123.51 L642.55,123.40 L643.05,123.28 L643.55,123.17 L644.05,123.05 L644.55,122.93 L645.05,122.82 L645.55,122.70 L646.05,122.57 L646.55,122.45 L647.05,122.33 L647.55,122.20 L648.05,122.08 L648.40,121.99" stroke="#000" stroke-width="2"/>
<path d="M394.55,99.8H648.4M521.48,37.15V193.8" stroke="#222" stroke-width="0.9"/>
</g>
<rect x="394.55" y="37.15" width="253.85" height="156.65" fill="none" stroke="#555" stroke-width="1.1"/>
<path d="M394.55,193.8v-3.2 M405.13,193.8v-1.8 M415.70,193.8v-1.8 M426.28,193.8v-1.8 M436.86,193.8v-3.2 M447.44,193.8v-1.8 M458.01,193.8v-1.8 M468.59,193.8v-1.8 M479.17,193.8v-3.2 M489.74,193.8v-1.8 M500.32,193.8v-1.8 M510.90,193.8v-1.8 M521.48,193.8v-3.2 M532.05,193.8v-1.8 M542.63,193.8v-1.8 M553.21,193.8v-1.8 M563.78,193.8v-3.2 M574.36,193.8v-1.8 M584.94,193.8v-1.8 M595.51,193.8v-1.8 M606.09,193.8v-3.2 M616.67,193.8v-1.8 M627.25,193.8v-1.8 M637.82,193.8v-1.8 M648.40,193.8v-3.2 M394.55,68.40h3 M648.4,131.20h-3 M648.4,162.60h-3" stroke="#222" stroke-width="0.9" fill="none"/>
<g font-family="'Liberation Serif', 'DejaVu Serif', serif" font-size="13.5" fill="#000" stroke="#000" stroke-width="0.3"><text x="394.55" y="208.10" text-anchor="middle"><tspan dy="1.5">−</tspan><tspan dx="2.3" dy="-1.5">6</tspan></text><text x="436.86" y="208.10" text-anchor="middle"><tspan dy="1.5">−</tspan><tspan dx="2.3" dy="-1.5">4</tspan></text><text x="479.17" y="208.10" text-anchor="middle"><tspan dy="1.5">−</tspan><tspan dx="2.3" dy="-1.5">2</tspan></text><text x="521.48" y="208.10" text-anchor="middle">0</text><text x="563.78" y="208.10" text-anchor="middle">2</text><text x="606.09" y="208.10" text-anchor="middle">4</text><text x="648.40" y="208.10" text-anchor="middle">6</text><text x="391.35" y="41.50" text-anchor="end">1</text><text x="391.20" y="72.90" text-anchor="end">0.5</text><text x="391.75" y="104.30" text-anchor="end">0</text><text x="651.15" y="104.30" text-anchor="start">0</text><text x="651.15" y="135.70" text-anchor="start"><tspan dy="1.5">−</tspan><tspan dx="2.3" dy="-1.5">0.1</tspan></text><text x="651.15" y="167.10" text-anchor="start"><tspan dy="1.5">−</tspan><tspan dx="2.3" dy="-1.5">0.2</tspan></text><text x="651.15" y="198.50" text-anchor="start"><tspan dy="1.5">−</tspan><tspan dx="2.3" dy="-1.5">0.3</tspan></text></g>
<text stroke="#000" stroke-width="0.15" transform="translate(365.95,115.65) rotate(-90) scale(0.91,1)" font-family="'Liberation Serif', 'DejaVu Serif', serif" font-size="13.2" text-anchor="middle">ELF</text>
<text stroke="#000" stroke-width="0.2" transform="translate(696.75,121.5) rotate(-90)" font-family="'Liberation Serif', 'DejaVu Serif', serif" font-size="12.2">l<tspan font-style="italic">ϵ</tspan><tspan font-style="italic" font-size="8.3" dy="3.2">x</tspan></text>
<text stroke="#000" stroke-width="0.12" x="518.05" y="229.5" font-family="'Liberation Serif', 'DejaVu Serif', serif" font-size="12.6" font-style="italic">z</text>
<path d="M518.35,221H526.15" stroke="#000" stroke-width="0.8"/>
<text stroke="#000" stroke-width="0.22" x="354.55" y="15.9" font-family="'Liberation Serif', 'DejaVu Serif', serif" font-size="22.5">(b)</text>
<text stroke="#000" stroke-width="0.22" transform="translate(501.85,15.9) scale(1.1,0.95)" font-family="'Liberation Serif', 'DejaVu Serif', serif" font-size="20" font-style="italic">α</text>
<text stroke="#000" stroke-width="0.22" transform="translate(520.75,17.35) scale(1.41,1)" font-family="'Liberation Serif', 'DejaVu Serif', serif" font-size="20.4">=</text>
<text stroke="#000" stroke-width="0.22" x="541.45" y="15.9" font-family="'Liberation Serif', 'DejaVu Serif', serif" font-size="20.4">0.23</text>
<clipPath id="clipc"><rect x="41.0" y="281.0" width="253.90" height="156.65"/></clipPath>
<g clip-path="url(#clipc)" fill="none" stroke-linejoin="round">
<path d="M41.00,385.40 L41.50,385.40 L42.00,385.40 L42.50,385.40 L43.00,385.40 L43.50,385.40 L44.00,385.40 L44.50,385.40 L45.00,385.40 L45.50,385.40 L46.00,385.40 L46.50,385.40 L47.00,385.40 L47.50,385.40 L48.00,385.40 L48.50,385.40 L49.00,385.40 L49.50,385.40 L50.00,385.40 L50.50,385.40 L51.00,385.40 L51.50,385.40 L52.00,385.40 L52.50,385.40 L53.00,385.40 L53.50,385.40 L54.00,385.40 L54.50,385.40 L55.00,385.40 L55.50,385.40 L56.00,385.40 L56.50,385.40 L57.00,385.40 L57.50,385.40 L58.00,385.40 L58.50,385.40 L59.00,385.40 L59.50,385.40 L60.00,385.40 L60.50,385.40 L61.00,385.40 L61.50,385.40 L62.00,385.40 L62.50,385.40 L63.00,385.40 L63.50,385.40 L64.00,385.40 L64.50,385.40 L65.00,385.40 L65.50,385.40 L66.00,385.40 L66.50,385.40 L67.00,385.40 L67.50,385.40 L68.00,385.40 L68.50,385.40 L69.00,385.40 L69.50,385.40 L70.00,385.40 L70.50,385.40 L71.00,385.40 L71.50,385.40 L72.00,385.40 L72.50,385.40 L73.00,385.40 L73.50,385.40 L74.00,385.40 L74.50,385.40 L75.00,385.40 L75.50,385.40 L76.00,385.40 L76.50,385.40 L77.00,385.40 L77.50,385.40 L78.00,385.40 L78.50,385.40 L79.00,385.40 L79.50,385.40 L80.00,385.40 L80.50,385.40 L81.00,385.40 L81.50,385.40 L82.00,385.40 L82.50,385.40 L83.00,385.40 L83.50,385.40 L84.00,385.40 L84.50,385.40 L85.00,385.40 L85.50,385.40 L86.00,385.40 L86.50,385.40 L87.00,385.40 L87.50,385.40 L88.00,385.40 L88.50,385.40 L89.00,385.40 L89.50,385.40 L90.00,385.40 L90.50,385.40 L91.00,385.40 L91.50,385.40 L92.00,385.40 L92.50,385.40 L93.00,385.40 L93.50,385.40 L94.00,385.40 L94.50,385.40 L95.00,385.40 L95.50,385.40 L96.00,385.40 L96.50,385.40 L97.00,385.40 L97.50,385.40 L98.00,385.40 L98.50,385.40 L99.00,385.40 L99.50,385.40 L100.00,385.40 L100.50,385.40 L101.00,385.40 L101.50,385.40 L102.00,385.40 L102.50,385.40 L103.00,385.40 L103.50,385.40 L104.00,385.40 L104.50,385.40 L105.00,385.40 L105.50,385.40 L106.00,385.39 L106.50,385.39 L107.00,385.38 L107.50,385.37 L108.00,385.36 L108.50,385.34 L109.00,385.33 L109.50,385.31 L110.00,385.30 L110.50,385.28 L111.00,385.26 L111.50,385.24 L112.00,385.22 L112.50,385.19 L113.00,385.16 L113.50,385.12 L114.00,385.09 L114.50,385.04 L115.00,385.00 L115.50,384.95 L116.00,384.88 L116.50,384.81 L117.00,384.72 L117.50,384.62 L118.00,384.52 L118.50,384.40 L119.00,384.28 L119.50,384.15 L120.00,384.01 L120.50,383.86 L121.00,383.71 L121.50,383.56 L122.00,383.40 L122.50,383.23 L123.00,383.06 L123.50,382.88 L124.00,382.68 L124.50,382.46 L125.00,382.22 L125.50,381.97 L126.00,381.70 L126.50,381.42 L127.00,381.11 L127.50,380.79 L128.00,380.44 L128.50,380.07 L129.00,379.66 L129.50,379.19 L130.00,378.68 L130.50,378.12 L131.00,377.52 L131.50,376.88 L132.00,376.19 L132.50,375.47 L133.00,374.70 L133.50,373.84 L134.00,372.85 L134.50,371.75 L135.00,370.56 L135.50,369.31 L136.00,368.03 L136.50,366.72 L137.00,365.40 L137.50,364.01 L138.00,362.56 L138.50,361.05 L139.00,359.51 L139.50,357.94 L140.00,356.37 L140.50,354.80 L141.00,353.23 L141.50,351.63 L142.00,350.01 L142.50,348.38 L143.00,346.74 L143.50,345.11 L144.00,343.47 L144.50,341.85 L145.00,340.22 L145.50,338.58 L146.00,336.94 L146.50,335.31 L147.00,333.68 L147.50,332.08 L148.00,330.51 L148.50,328.94 L149.00,327.34 L149.50,325.74 L150.00,324.16 L150.50,322.63 L151.00,321.19 L151.50,319.86 L152.00,318.67 L152.50,317.56 L153.00,316.50 L153.50,315.47 L154.00,314.50 L154.50,313.57 L155.00,312.71 L155.50,311.91 L156.00,311.18 L156.50,310.52 L157.00,309.92 L157.50,309.32 L158.00,308.75 L158.50,308.19 L159.00,307.66 L159.50,307.17 L160.00,306.71 L160.50,306.30 L161.00,305.95 L161.50,305.65 L162.00,305.41 L162.50,305.24 L163.00,305.08 L163.50,304.93 L164.00,304.79 L164.50,304.66 L165.00,304.55 L165.50,304.44 L166.00,304.36 L166.50,304.29 L167.00,304.24 L167.50,304.21 L168.00,304.20 L168.50,304.21 L169.00,304.25 L169.50,304.30 L170.00,304.37 L170.50,304.46 L171.00,304.57 L171.50,304.69 L172.00,304.82 L172.50,304.96 L173.00,305.11 L173.50,305.27 L174.00,305.45 L174.50,305.70 L175.00,306.01 L175.50,306.38 L176.00,306.80 L176.50,307.26 L177.00,307.77 L177.50,308.30 L178.00,308.86 L178.50,309.44 L179.00,310.04 L179.50,310.65 L180.00,311.32 L180.50,312.07 L181.00,312.88 L181.50,313.75 L182.00,314.69 L182.50,315.67 L183.00,316.71 L183.50,317.78 L184.00,318.90 L184.50,320.11 L185.00,321.47 L185.50,322.93 L186.00,324.47 L186.50,326.06 L187.00,327.66 L187.50,329.26 L188.00,330.82 L188.50,332.40 L189.00,334.01 L189.50,335.63 L190.00,337.27 L190.50,338.91 L191.00,340.55 L191.50,342.18 L192.00,343.80 L192.50,345.43 L193.00,347.07 L193.50,348.71 L194.00,350.34 L194.50,351.95 L195.00,353.54 L195.50,355.11 L196.00,356.68 L196.50,358.25 L197.00,359.82 L197.50,361.36 L198.00,362.85 L198.50,364.30 L199.00,365.67 L199.50,366.98 L200.00,368.29 L200.50,369.57 L201.00,370.81 L201.50,371.98 L202.00,373.06 L202.50,374.02 L203.00,374.86 L203.50,375.61 L204.00,376.33 L204.50,377.01 L205.00,377.65 L205.50,378.24 L206.00,378.79 L206.50,379.29 L207.00,379.74 L207.50,380.15 L208.00,380.51 L208.50,380.85 L209.00,381.17 L209.50,381.48 L210.00,381.76 L210.50,382.03 L211.00,382.27 L211.50,382.50 L212.00,382.72 L212.50,382.92 L213.00,383.10 L213.50,383.27 L214.00,383.43 L214.50,383.59 L215.00,383.74 L215.50,383.89 L216.00,384.04 L216.50,384.17 L217.00,384.30 L217.50,384.42 L218.00,384.54 L218.50,384.64 L219.00,384.74 L219.50,384.82 L220.00,384.90 L220.50,384.96 L221.00,385.01 L221.50,385.05 L222.00,385.09 L222.50,385.13 L223.00,385.16 L223.50,385.19 L224.00,385.22 L224.50,385.25 L225.00,385.27 L225.50,385.29 L226.00,385.30 L226.50,385.32 L227.00,385.33 L227.50,385.35 L228.00,385.36 L228.50,385.37 L229.00,385.38 L229.50,385.39 L230.00,385.40 L230.50,385.40 L231.00,385.40 L231.50,385.40 L232.00,385.40 L232.50,385.40 L233.00,385.40 L233.50,385.40 L234.00,385.40 L234.50,385.40 L235.00,385.40 L235.50,385.40 L236.00,385.40 L236.50,385.40 L237.00,385.40 L237.50,385.40 L238.00,385.40 L238.50,385.40 L239.00,385.40 L239.50,385.40 L240.00,385.40 L240.50,385.40 L241.00,385.40 L241.50,385.40 L242.00,385.40 L242.50,385.40 L243.00,385.40 L243.50,385.40 L244.00,385.40 L244.50,385.40 L245.00,385.40 L245.50,385.40 L246.00,385.40 L246.50,385.40 L247.00,385.40 L247.50,385.40 L248.00,385.40 L248.50,385.40 L249.00,385.40 L249.50,385.40 L250.00,385.40 L250.50,385.40 L251.00,385.40 L251.50,385.40 L252.00,385.40 L252.50,385.40 L253.00,385.40 L253.50,385.40 L254.00,385.40 L254.50,385.40 L255.00,385.40 L255.50,385.40 L256.00,385.40 L256.50,385.40 L257.00,385.40 L257.50,385.40 L258.00,385.40 L258.50,385.40 L259.00,385.40 L259.50,385.40 L260.00,385.40 L260.50,385.40 L261.00,385.40 L261.50,385.40 L262.00,385.40 L262.50,385.40 L263.00,385.40 L263.50,385.40 L264.00,385.40 L264.50,385.40 L265.00,385.40 L265.50,385.40 L266.00,385.40 L266.50,385.40 L267.00,385.40 L267.50,385.40 L268.00,385.40 L268.50,385.40 L269.00,385.40 L269.50,385.40 L270.00,385.40 L270.50,385.40 L271.00,385.40 L271.50,385.40 L272.00,385.40 L272.50,385.40 L273.00,385.40 L273.50,385.40 L274.00,385.40 L274.50,385.40 L275.00,385.40 L275.50,385.40 L276.00,385.40 L276.50,385.40 L277.00,385.40 L277.50,385.40 L278.00,385.40 L278.50,385.40 L279.00,385.40 L279.50,385.40 L280.00,385.40 L280.50,385.40 L281.00,385.40 L281.50,385.40 L282.00,385.40 L282.50,385.40 L283.00,385.40 L283.50,385.40 L284.00,385.40 L284.50,385.40 L285.00,385.40 L285.50,385.40 L286.00,385.40 L286.50,385.40 L287.00,385.40 L287.50,385.40 L288.00,385.40 L288.50,385.40 L289.00,385.40 L289.50,385.40 L290.00,385.40 L290.50,385.40 L291.00,385.40 L291.50,385.40 L292.00,385.40 L292.50,385.40 L293.00,385.40 L293.50,385.40 L294.00,385.40 L294.50,385.40 L294.90,385.40" stroke="#22ee00" stroke-width="2.2" stroke-dasharray="9.2 5.65 2.4 5.65" stroke-dashoffset="12.35" stroke-linecap="round"/>
<path d="M41.00,385.40 L41.50,385.40 L42.00,385.40 L42.50,385.40 L43.00,385.40 L43.50,385.40 L44.00,385.40 L44.50,385.40 L45.00,385.40 L45.50,385.40 L46.00,385.40 L46.50,385.40 L47.00,385.40 L47.50,385.40 L48.00,385.40 L48.50,385.40 L49.00,385.40 L49.50,385.40 L50.00,385.40 L50.50,385.40 L51.00,385.40 L51.50,385.40 L52.00,385.40 L52.50,385.40 L53.00,385.40 L53.50,385.40 L54.00,385.40 L54.50,385.40 L55.00,385.40 L55.50,385.40 L56.00,385.40 L56.50,385.40 L57.00,385.40 L57.50,385.40 L58.00,385.40 L58.50,385.40 L59.00,385.40 L59.50,385.40 L60.00,385.40 L60.50,385.40 L61.00,385.40 L61.50,385.40 L62.00,385.40 L62.50,385.40 L63.00,385.40 L63.50,385.40 L64.00,385.40 L64.50,385.40 L65.00,385.40 L65.50,385.40 L66.00,385.40 L66.50,385.40 L67.00,385.40 L67.50,385.40 L68.00,385.40 L68.50,385.40 L69.00,385.40 L69.50,385.40 L70.00,385.40 L70.50,385.40 L71.00,385.40 L71.50,385.40 L72.00,385.40 L72.50,385.40 L73.00,385.40 L73.50,385.40 L74.00,385.40 L74.50,385.40 L75.00,385.40 L75.50,385.40 L76.00,385.40 L76.50,385.40 L77.00,385.40 L77.50,385.40 L78.00,385.40 L78.50,385.40 L79.00,385.40 L79.50,385.40 L80.00,385.40 L80.50,385.40 L81.00,385.41 L81.50,385.42 L82.00,385.44 L82.50,385.45 L83.00,385.48 L83.50,385.50 L84.00,385.53 L84.50,385.56 L85.00,385.59 L85.50,385.62 L86.00,385.66 L86.50,385.69 L87.00,385.73 L87.50,385.76 L88.00,385.80 L88.50,385.84 L89.00,385.89 L89.50,385.95 L90.00,386.01 L90.50,386.07 L91.00,386.14 L91.50,386.21 L92.00,386.27 L92.50,386.34 L93.00,386.40 L93.50,386.46 L94.00,386.52 L94.50,386.58 L95.00,386.64 L95.50,386.70 L96.00,386.76 L96.50,386.82 L97.00,386.88 L97.50,386.94 L98.00,387.00 L98.50,387.06 L99.00,387.12 L99.50,387.17 L100.00,387.23 L100.50,387.29 L101.00,387.35 L101.50,387.42 L102.00,387.50 L102.50,387.58 L103.00,387.67 L103.50,387.77 L104.00,387.87 L104.50,387.99 L105.00,388.10 L105.50,388.22 L106.00,388.35 L106.50,388.49 L107.00,388.63 L107.50,388.77 L108.00,388.92 L108.50,389.09 L109.00,389.27 L109.50,389.46 L110.00,389.66 L110.50,389.87 L111.00,390.09 L111.50,390.31 L112.00,390.54 L112.50,390.78 L113.00,391.01 L113.50,391.25 L114.00,391.49 L114.50,391.72 L115.00,391.95 L115.50,392.19 L116.00,392.42 L116.50,392.67 L117.00,392.91 L117.50,393.16 L118.00,393.41 L118.50,393.67 L119.00,393.93 L119.50,394.18 L120.00,394.44 L120.50,394.70 L121.00,394.95 L121.50,395.20 L122.00,395.46 L122.50,395.70 L123.00,395.94 L123.50,396.17 L124.00,396.40 L124.50,396.64 L125.00,396.90 L125.50,397.18 L126.00,397.47 L126.50,397.77 L127.00,398.09 L127.50,398.42 L128.00,398.76 L128.50,399.11 L129.00,399.47 L129.50,399.85 L130.00,400.26 L130.50,400.70 L131.00,401.15 L131.50,401.62 L132.00,402.10 L132.50,402.58 L133.00,403.05 L133.50,403.51 L134.00,403.96 L134.50,404.40 L135.00,404.84 L135.50,405.28 L136.00,405.71 L136.50,406.15 L137.00,406.59 L137.50,407.04 L138.00,407.49 L138.50,407.94 L139.00,408.40 L139.50,408.86 L140.00,409.32 L140.50,409.78 L141.00,410.25 L141.50,410.73 L142.00,411.20 L142.50,411.69 L143.00,412.18 L143.50,412.68 L144.00,413.18 L144.50,413.68 L145.00,414.19 L145.50,414.69 L146.00,415.20 L146.50,415.70 L147.00,416.21 L147.50,416.72 L148.00,417.24 L148.50,417.76 L149.00,418.27 L149.50,418.77 L150.00,419.26 L150.50,419.72 L151.00,420.16 L151.50,420.60 L152.00,421.02 L152.50,421.43 L153.00,421.83 L153.50,422.22 L154.00,422.60 L154.50,422.96 L155.00,423.30 L155.50,423.63 L156.00,423.96 L156.50,424.27 L157.00,424.58 L157.50,424.87 L158.00,425.15 L158.50,425.41 L159.00,425.66 L159.50,425.89 L160.00,426.12 L160.50,426.35 L161.00,426.57 L161.50,426.78 L162.00,426.98 L162.50,427.14 L163.00,427.28 L163.50,427.38 L164.00,427.46 L164.50,427.53 L165.00,427.59 L165.50,427.65 L166.00,427.70 L166.50,427.75 L167.00,427.78 L167.50,427.80 L168.00,427.80 L168.50,427.79 L169.00,427.77 L169.50,427.74 L170.00,427.69 L170.50,427.64 L171.00,427.58 L171.50,427.52 L172.00,427.44 L172.50,427.37 L173.00,427.26 L173.50,427.11 L174.00,426.94 L174.50,426.74 L175.00,426.53 L175.50,426.31 L176.00,426.08 L176.50,425.85 L177.00,425.61 L177.50,425.36 L178.00,425.09 L178.50,424.81 L179.00,424.52 L179.50,424.21 L180.00,423.89 L180.50,423.57 L181.00,423.23 L181.50,422.89 L182.00,422.52 L182.50,422.15 L183.00,421.75 L183.50,421.35 L184.00,420.94 L184.50,420.51 L185.00,420.08 L185.50,419.63 L186.00,419.16 L186.50,418.67 L187.00,418.17 L187.50,417.66 L188.00,417.14 L188.50,416.62 L189.00,416.11 L189.50,415.60 L190.00,415.10 L190.50,414.59 L191.00,414.09 L191.50,413.58 L192.00,413.08 L192.50,412.58 L193.00,412.08 L193.50,411.59 L194.00,411.11 L194.50,410.63 L195.00,410.16 L195.50,409.69 L196.00,409.23 L196.50,408.77 L197.00,408.31 L197.50,407.85 L198.00,407.40 L198.50,406.95 L199.00,406.51 L199.50,406.06 L200.00,405.63 L200.50,405.19 L201.00,404.75 L201.50,404.31 L202.00,403.87 L202.50,403.42 L203.00,402.96 L203.50,402.48 L204.00,402.00 L204.50,401.53 L205.00,401.06 L205.50,400.61 L206.00,400.18 L206.50,399.78 L207.00,399.40 L207.50,399.04 L208.00,398.69 L208.50,398.35 L209.00,398.02 L209.50,397.71 L210.00,397.41 L210.50,397.12 L211.00,396.85 L211.50,396.59 L212.00,396.36 L212.50,396.13 L213.00,395.90 L213.50,395.65 L214.00,395.41 L214.50,395.15 L215.00,394.90 L215.50,394.65 L216.00,394.39 L216.50,394.13 L217.00,393.87 L217.50,393.62 L218.00,393.36 L218.50,393.11 L219.00,392.86 L219.50,392.62 L220.00,392.38 L220.50,392.14 L221.00,391.91 L221.50,391.67 L222.00,391.44 L222.50,391.20 L223.00,390.96 L223.50,390.73 L224.00,390.50 L224.50,390.27 L225.00,390.05 L225.50,389.83 L226.00,389.62 L226.50,389.42 L227.00,389.23 L227.50,389.06 L228.00,388.89 L228.50,388.74 L229.00,388.60 L229.50,388.46 L230.00,388.33 L230.50,388.20 L231.00,388.08 L231.50,387.96 L232.00,387.85 L232.50,387.75 L233.00,387.66 L233.50,387.57 L234.00,387.48 L234.50,387.41 L235.00,387.34 L235.50,387.28 L236.00,387.22 L236.50,387.16 L237.00,387.11 L237.50,387.05 L238.00,386.99 L238.50,386.93 L239.00,386.87 L239.50,386.81 L240.00,386.75 L240.50,386.69 L241.00,386.63 L241.50,386.57 L242.00,386.51 L242.50,386.45 L243.00,386.39 L243.50,386.33 L244.00,386.26 L244.50,386.19 L245.00,386.12 L245.50,386.06 L246.00,385.99 L246.50,385.93 L247.00,385.88 L247.50,385.83 L248.00,385.79 L248.50,385.76 L249.00,385.72 L249.50,385.68 L250.00,385.65 L250.50,385.61 L251.00,385.58 L251.50,385.55 L252.00,385.52 L252.50,385.49 L253.00,385.47 L253.50,385.45 L254.00,385.43 L254.50,385.42 L255.00,385.41 L255.50,385.40 L256.00,385.40 L256.50,385.40 L257.00,385.40 L257.50,385.40 L258.00,385.40 L258.50,385.40 L259.00,385.40 L259.50,385.40 L260.00,385.40 L260.50,385.40 L261.00,385.40 L261.50,385.40 L262.00,385.40 L262.50,385.40 L263.00,385.40 L263.50,385.40 L264.00,385.40 L264.50,385.40 L265.00,385.40 L265.50,385.40 L266.00,385.40 L266.50,385.40 L267.00,385.40 L267.50,385.40 L268.00,385.40 L268.50,385.40 L269.00,385.40 L269.50,385.40 L270.00,385.40 L270.50,385.40 L271.00,385.40 L271.50,385.40 L272.00,385.40 L272.50,385.40 L273.00,385.40 L273.50,385.40 L274.00,385.40 L274.50,385.40 L275.00,385.40 L275.50,385.40 L276.00,385.40 L276.50,385.40 L277.00,385.40 L277.50,385.40 L278.00,385.40 L278.50,385.40 L279.00,385.40 L279.50,385.40 L280.00,385.40 L280.50,385.40 L281.00,385.40 L281.50,385.40 L282.00,385.40 L282.50,385.40 L283.00,385.40 L283.50,385.40 L284.00,385.40 L284.50,385.40 L285.00,385.40 L285.50,385.40 L286.00,385.40 L286.50,385.40 L287.00,385.40 L287.50,385.40 L288.00,385.40 L288.50,385.40 L289.00,385.40 L289.50,385.40 L290.00,385.40 L290.50,385.40 L291.00,385.40 L291.50,385.40 L292.00,385.40 L292.50,385.40 L293.00,385.40 L293.50,385.40 L294.00,385.40 L294.50,385.40 L294.90,385.40" stroke="#ff0000" stroke-width="2.2" stroke-dasharray="7.0 5.7" stroke-dashoffset="6.70" stroke-linecap="round"/>
<path d="M41.00,391.97 L41.50,392.01 L42.00,392.06 L42.50,392.10 L43.00,392.14 L43.50,392.19 L44.00,392.23 L44.50,392.27 L45.00,392.32 L45.50,392.36 L46.00,392.40 L46.50,392.44 L47.00,392.49 L47.50,392.53 L48.00,392.57 L48.50,392.61 L49.00,392.65 L49.50,392.69 L50.00,392.73 L50.50,392.77 L51.00,392.81 L51.50,392.85 L52.00,392.89 L52.50,392.93 L53.00,392.97 L53.50,393.01 L54.00,393.05 L54.50,393.09 L55.00,393.13 L55.50,393.16 L56.00,393.20 L56.50,393.24 L57.00,393.28 L57.50,393.32 L58.00,393.36 L58.50,393.39 L59.00,393.43 L59.50,393.47 L60.00,393.51 L60.50,393.55 L61.00,393.59 L61.50,393.62 L62.00,393.66 L62.50,393.70 L63.00,393.74 L63.50,393.78 L64.00,393.81 L64.50,393.85 L65.00,393.89 L65.50,393.93 L66.00,393.97 L66.50,394.01 L67.00,394.04 L67.50,394.08 L68.00,394.12 L68.50,394.16 L69.00,394.20 L69.50,394.24 L70.00,394.28 L70.50,394.32 L71.00,394.36 L71.50,394.40 L72.00,394.44 L72.50,394.48 L73.00,394.52 L73.50,394.56 L74.00,394.60 L74.50,394.64 L75.00,394.68 L75.50,394.72 L76.00,394.77 L76.50,394.81 L77.00,394.85 L77.50,394.89 L78.00,394.94 L78.50,394.98 L79.00,395.02 L79.50,395.07 L80.00,395.11 L80.50,395.16 L81.00,395.20 L81.50,395.25 L82.00,395.29 L82.50,395.34 L83.00,395.39 L83.50,395.43 L84.00,395.48 L84.50,395.53 L85.00,395.58 L85.50,395.62 L86.00,395.67 L86.50,395.72 L87.00,395.77 L87.50,395.82 L88.00,395.87 L88.50,395.93 L89.00,395.98 L89.50,396.03 L90.00,396.08 L90.50,396.14 L91.00,396.19 L91.50,396.24 L92.00,396.30 L92.50,396.36 L93.00,396.41 L93.50,396.47 L94.00,396.53 L94.50,396.58 L95.00,396.64 L95.50,396.70 L96.00,396.76 L96.50,396.82 L97.00,396.89 L97.50,396.95 L98.00,397.02 L98.50,397.08 L99.00,397.15 L99.50,397.22 L100.00,397.29 L100.50,397.36 L101.00,397.43 L101.50,397.50 L102.00,397.58 L102.50,397.66 L103.00,397.74 L103.50,397.82 L104.00,397.90 L104.50,397.99 L105.00,398.07 L105.50,398.16 L106.00,398.25 L106.50,398.35 L107.00,398.44 L107.50,398.54 L108.00,398.64 L108.50,398.75 L109.00,398.85 L109.50,398.96 L110.00,399.07 L110.50,399.18 L111.00,399.30 L111.50,399.42 L112.00,399.54 L112.50,399.66 L113.00,399.79 L113.50,399.92 L114.00,400.05 L114.50,400.19 L115.00,400.33 L115.50,400.47 L116.00,400.62 L116.50,400.77 L117.00,400.92 L117.50,401.08 L118.00,401.23 L118.50,401.39 L119.00,401.55 L119.50,401.72 L120.00,401.88 L120.50,402.05 L121.00,402.22 L121.50,402.38 L122.00,402.55 L122.50,402.72 L123.00,402.89 L123.50,403.06 L124.00,403.24 L124.50,403.41 L125.00,403.58 L125.50,403.75 L126.00,403.92 L126.50,404.09 L127.00,404.26 L127.50,404.44 L128.00,404.62 L128.50,404.80 L129.00,404.99 L129.50,405.18 L130.00,405.38 L130.50,405.58 L131.00,405.79 L131.50,406.01 L132.00,406.24 L132.50,406.48 L133.00,406.73 L133.50,406.98 L134.00,407.25 L134.50,407.53 L135.00,407.82 L135.50,408.12 L136.00,408.43 L136.50,408.75 L137.00,409.08 L137.50,409.42 L138.00,409.76 L138.50,410.12 L139.00,410.47 L139.50,410.84 L140.00,411.21 L140.50,411.59 L141.00,411.97 L141.50,412.36 L142.00,412.75 L142.50,413.15 L143.00,413.55 L143.50,413.95 L144.00,414.35 L144.50,414.76 L145.00,415.17 L145.50,415.58 L146.00,415.99 L146.50,416.40 L147.00,416.81 L147.50,417.22 L148.00,417.63 L148.50,418.04 L149.00,418.44 L149.50,418.84 L150.00,419.24 L150.50,419.64 L151.00,420.03 L151.50,420.42 L152.00,420.81 L152.50,421.19 L153.00,421.56 L153.50,421.93 L154.00,422.29 L154.50,422.64 L155.00,422.99 L155.50,423.33 L156.00,423.66 L156.50,423.98 L157.00,424.29 L157.50,424.59 L158.00,424.89 L158.50,425.17 L159.00,425.44 L159.50,425.70 L160.00,425.95 L160.50,426.19 L161.00,426.41 L161.50,426.63 L162.00,426.83 L162.50,427.01 L163.00,427.18 L163.50,427.34 L164.00,427.48 L164.50,427.60 L165.00,427.71 L165.50,427.81 L166.00,427.88 L166.50,427.94 L167.00,427.98 L167.50,428.01 L168.00,428.01 L168.50,428.00 L169.00,427.97 L169.50,427.92 L170.00,427.85 L170.50,427.77 L171.00,427.67 L171.50,427.55 L172.00,427.42 L172.50,427.27 L173.00,427.11 L173.50,426.93 L174.00,426.74 L174.50,426.54 L175.00,426.32 L175.50,426.09 L176.00,425.85 L176.50,425.60 L177.00,425.33 L177.50,425.06 L178.00,424.77 L178.50,424.47 L179.00,424.17 L179.50,423.86 L180.00,423.53 L180.50,423.20 L181.00,422.86 L181.50,422.52 L182.00,422.16 L182.50,421.80 L183.00,421.44 L183.50,421.07 L184.00,420.69 L184.50,420.31 L185.00,419.93 L185.50,419.54 L186.00,419.15 L186.50,418.75 L187.00,418.35 L187.50,417.96 L188.00,417.55 L188.50,417.15 L189.00,416.75 L189.50,416.34 L190.00,415.94 L190.50,415.54 L191.00,415.13 L191.50,414.73 L192.00,414.33 L192.50,413.93 L193.00,413.53 L193.50,413.14 L194.00,412.75 L194.50,412.36 L195.00,411.97 L195.50,411.59 L196.00,411.22 L196.50,410.85 L197.00,410.48 L197.50,410.12 L198.00,409.77 L198.50,409.42 L199.00,409.08 L199.50,408.75 L200.00,408.43 L200.50,408.11 L201.00,407.80 L201.50,407.50 L202.00,407.21 L202.50,406.93 L203.00,406.66 L203.50,406.40 L204.00,406.15 L204.50,405.91 L205.00,405.67 L205.50,405.45 L206.00,405.23 L206.50,405.01 L207.00,404.81 L207.50,404.61 L208.00,404.42 L208.50,404.23 L209.00,404.05 L209.50,403.88 L210.00,403.71 L210.50,403.54 L211.00,403.38 L211.50,403.22 L212.00,403.06 L212.50,402.91 L213.00,402.76 L213.50,402.61 L214.00,402.47 L214.50,402.32 L215.00,402.18 L215.50,402.04 L216.00,401.90 L216.50,401.75 L217.00,401.61 L217.50,401.47 L218.00,401.33 L218.50,401.19 L219.00,401.06 L219.50,400.92 L220.00,400.78 L220.50,400.64 L221.00,400.51 L221.50,400.38 L222.00,400.24 L222.50,400.11 L223.00,399.98 L223.50,399.85 L224.00,399.73 L224.50,399.60 L225.00,399.48 L225.50,399.35 L226.00,399.23 L226.50,399.11 L227.00,399.00 L227.50,398.88 L228.00,398.77 L228.50,398.66 L229.00,398.55 L229.50,398.44 L230.00,398.33 L230.50,398.23 L231.00,398.13 L231.50,398.03 L232.00,397.93 L232.50,397.84 L233.00,397.74 L233.50,397.65 L234.00,397.56 L234.50,397.47 L235.00,397.39 L235.50,397.30 L236.00,397.22 L236.50,397.14 L237.00,397.06 L237.50,396.98 L238.00,396.90 L238.50,396.82 L239.00,396.75 L239.50,396.68 L240.00,396.61 L240.50,396.54 L241.00,396.47 L241.50,396.40 L242.00,396.34 L242.50,396.27 L243.00,396.21 L243.50,396.15 L244.00,396.09 L244.50,396.03 L245.00,395.97 L245.50,395.92 L246.00,395.86 L246.50,395.81 L247.00,395.75 L247.50,395.70 L248.00,395.65 L248.50,395.60 L249.00,395.55 L249.50,395.50 L250.00,395.46 L250.50,395.41 L251.00,395.37 L251.50,395.32 L252.00,395.28 L252.50,395.23 L253.00,395.19 L253.50,395.15 L254.00,395.11 L254.50,395.07 L255.00,395.03 L255.50,394.99 L256.00,394.96 L256.50,394.92 L257.00,394.88 L257.50,394.85 L258.00,394.81 L258.50,394.78 L259.00,394.74 L259.50,394.71 L260.00,394.68 L260.50,394.64 L261.00,394.61 L261.50,394.58 L262.00,394.55 L262.50,394.51 L263.00,394.48 L263.50,394.45 L264.00,394.42 L264.50,394.39 L265.00,394.36 L265.50,394.33 L266.00,394.30 L266.50,394.27 L267.00,394.24 L267.50,394.21 L268.00,394.18 L268.50,394.15 L269.00,394.12 L269.50,394.09 L270.00,394.06 L270.50,394.03 L271.00,394.00 L271.50,393.97 L272.00,393.94 L272.50,393.91 L273.00,393.87 L273.50,393.84 L274.00,393.81 L274.50,393.78 L275.00,393.75 L275.50,393.71 L276.00,393.68 L276.50,393.65 L277.00,393.61 L277.50,393.58 L278.00,393.54 L278.50,393.51 L279.00,393.47 L279.50,393.44 L280.00,393.40 L280.50,393.36 L281.00,393.32 L281.50,393.28 L282.00,393.24 L282.50,393.20 L283.00,393.16 L283.50,393.12 L284.00,393.08 L284.50,393.03 L285.00,392.99 L285.50,392.94 L286.00,392.90 L286.50,392.85 L287.00,392.80 L287.50,392.75 L288.00,392.70 L288.50,392.65 L289.00,392.60 L289.50,392.54 L290.00,392.49 L290.50,392.43 L291.00,392.37 L291.50,392.32 L292.00,392.26 L292.50,392.20 L293.00,392.13 L293.50,392.07 L294.00,392.01 L294.50,391.94 L294.90,391.89" stroke="#1428ff" stroke-width="2.3" stroke-dasharray="2.6 1.6"/>
<path d="M41.00,393.82 L41.50,393.85 L42.00,393.88 L42.50,393.91 L43.00,393.94 L43.50,393.97 L44.00,394.01 L44.50,394.04 L45.00,394.08 L45.50,394.11 L46.00,394.15 L46.50,394.19 L47.00,394.23 L47.50,394.27 L48.00,394.32 L48.50,394.36 L49.00,394.41 L49.50,394.45 L50.00,394.50 L50.50,394.55 L51.00,394.60 L51.50,394.65 L52.00,394.70 L52.50,394.75 L53.00,394.80 L53.50,394.85 L54.00,394.91 L54.50,394.96 L55.00,395.02 L55.50,395.07 L56.00,395.13 L56.50,395.19 L57.00,395.25 L57.50,395.31 L58.00,395.37 L58.50,395.43 L59.00,395.49 L59.50,395.55 L60.00,395.61 L60.50,395.68 L61.00,395.74 L61.50,395.80 L62.00,395.87 L62.50,395.93 L63.00,396.00 L63.50,396.06 L64.00,396.13 L64.50,396.19 L65.00,396.26 L65.50,396.33 L66.00,396.39 L66.50,396.46 L67.00,396.53 L67.50,396.60 L68.00,396.66 L68.50,396.73 L69.00,396.80 L69.50,396.87 L70.00,396.94 L70.50,397.00 L71.00,397.07 L71.50,397.14 L72.00,397.21 L72.50,397.28 L73.00,397.35 L73.50,397.41 L74.00,397.48 L74.50,397.55 L75.00,397.62 L75.50,397.69 L76.00,397.75 L76.50,397.82 L77.00,397.89 L77.50,397.95 L78.00,398.02 L78.50,398.09 L79.00,398.15 L79.50,398.22 L80.00,398.28 L80.50,398.35 L81.00,398.41 L81.50,398.48 L82.00,398.54 L82.50,398.60 L83.00,398.66 L83.50,398.73 L84.00,398.79 L84.50,398.85 L85.00,398.91 L85.50,398.97 L86.00,399.03 L86.50,399.09 L87.00,399.14 L87.50,399.20 L88.00,399.26 L88.50,399.31 L89.00,399.37 L89.50,399.42 L90.00,399.47 L90.50,399.52 L91.00,399.58 L91.50,399.63 L92.00,399.68 L92.50,399.72 L93.00,399.77 L93.50,399.82 L94.00,399.86 L94.50,399.91 L95.00,399.95 L95.50,400.00 L96.00,400.04 L96.50,400.08 L97.00,400.13 L97.50,400.17 L98.00,400.22 L98.50,400.26 L99.00,400.31 L99.50,400.35 L100.00,400.40 L100.50,400.45 L101.00,400.50 L101.50,400.55 L102.00,400.60 L102.50,400.66 L103.00,400.71 L103.50,400.77 L104.00,400.83 L104.50,400.89 L105.00,400.96 L105.50,401.03 L106.00,401.10 L106.50,401.17 L107.00,401.25 L107.50,401.33 L108.00,401.41 L108.50,401.49 L109.00,401.58 L109.50,401.68 L110.00,401.78 L110.50,401.88 L111.00,401.98 L111.50,402.09 L112.00,402.21 L112.50,402.33 L113.00,402.45 L113.50,402.58 L114.00,402.72 L114.50,402.86 L115.00,403.00 L115.50,403.16 L116.00,403.31 L116.50,403.47 L117.00,403.64 L117.50,403.82 L118.00,403.99 L118.50,404.18 L119.00,404.36 L119.50,404.56 L120.00,404.76 L120.50,404.96 L121.00,405.17 L121.50,405.38 L122.00,405.60 L122.50,405.82 L123.00,406.05 L123.50,406.28 L124.00,406.51 L124.50,406.75 L125.00,407.00 L125.50,407.25 L126.00,407.50 L126.50,407.76 L127.00,408.02 L127.50,408.28 L128.00,408.55 L128.50,408.82 L129.00,409.10 L129.50,409.38 L130.00,409.66 L130.50,409.95 L131.00,410.24 L131.50,410.53 L132.00,410.83 L132.50,411.13 L133.00,411.43 L133.50,411.73 L134.00,412.04 L134.50,412.35 L135.00,412.67 L135.50,412.99 L136.00,413.30 L136.50,413.63 L137.00,413.95 L137.50,414.27 L138.00,414.60 L138.50,414.92 L139.00,415.25 L139.50,415.58 L140.00,415.91 L140.50,416.24 L141.00,416.57 L141.50,416.90 L142.00,417.22 L142.50,417.55 L143.00,417.88 L143.50,418.20 L144.00,418.53 L144.50,418.85 L145.00,419.17 L145.50,419.49 L146.00,419.81 L146.50,420.13 L147.00,420.44 L147.50,420.75 L148.00,421.06 L148.50,421.36 L149.00,421.66 L149.50,421.96 L150.00,422.25 L150.50,422.54 L151.00,422.83 L151.50,423.11 L152.00,423.38 L152.50,423.65 L153.00,423.92 L153.50,424.18 L154.00,424.43 L154.50,424.68 L155.00,424.93 L155.50,425.16 L156.00,425.40 L156.50,425.62 L157.00,425.84 L157.50,426.05 L158.00,426.25 L158.50,426.45 L159.00,426.63 L159.50,426.82 L160.00,426.99 L160.50,427.15 L161.00,427.31 L161.50,427.45 L162.00,427.59 L162.50,427.72 L163.00,427.84 L163.50,427.95 L164.00,428.05 L164.50,428.14 L165.00,428.22 L165.50,428.29 L166.00,428.35 L166.50,428.39 L167.00,428.43 L167.50,428.46 L168.00,428.47 L168.50,428.47 L169.00,428.46 L169.50,428.44 L170.00,428.41 L170.50,428.37 L171.00,428.31 L171.50,428.25 L172.00,428.18 L172.50,428.09 L173.00,427.99 L173.50,427.89 L174.00,427.77 L174.50,427.65 L175.00,427.51 L175.50,427.37 L176.00,427.21 L176.50,427.05 L177.00,426.88 L177.50,426.70 L178.00,426.51 L178.50,426.31 L179.00,426.11 L179.50,425.89 L180.00,425.67 L180.50,425.44 L181.00,425.20 L181.50,424.96 L182.00,424.70 L182.50,424.44 L183.00,424.17 L183.50,423.90 L184.00,423.62 L184.50,423.33 L185.00,423.04 L185.50,422.74 L186.00,422.43 L186.50,422.12 L187.00,421.80 L187.50,421.48 L188.00,421.15 L188.50,420.82 L189.00,420.49 L189.50,420.15 L190.00,419.81 L190.50,419.46 L191.00,419.12 L191.50,418.77 L192.00,418.42 L192.50,418.06 L193.00,417.71 L193.50,417.36 L194.00,417.00 L194.50,416.65 L195.00,416.29 L195.50,415.94 L196.00,415.59 L196.50,415.24 L197.00,414.89 L197.50,414.54 L198.00,414.20 L198.50,413.86 L199.00,413.52 L199.50,413.19 L200.00,412.86 L200.50,412.53 L201.00,412.21 L201.50,411.89 L202.00,411.58 L202.50,411.28 L203.00,410.98 L203.50,410.68 L204.00,410.40 L204.50,410.11 L205.00,409.84 L205.50,409.57 L206.00,409.30 L206.50,409.04 L207.00,408.79 L207.50,408.54 L208.00,408.29 L208.50,408.05 L209.00,407.82 L209.50,407.59 L210.00,407.36 L210.50,407.14 L211.00,406.93 L211.50,406.72 L212.00,406.51 L212.50,406.31 L213.00,406.11 L213.50,405.91 L214.00,405.72 L214.50,405.54 L215.00,405.36 L215.50,405.18 L216.00,405.00 L216.50,404.83 L217.00,404.67 L217.50,404.50 L218.00,404.34 L218.50,404.19 L219.00,404.04 L219.50,403.89 L220.00,403.74 L220.50,403.59 L221.00,403.45 L221.50,403.32 L222.00,403.18 L222.50,403.05 L223.00,402.92 L223.50,402.79 L224.00,402.67 L224.50,402.55 L225.00,402.43 L225.50,402.31 L226.00,402.19 L226.50,402.08 L227.00,401.97 L227.50,401.86 L228.00,401.75 L228.50,401.65 L229.00,401.54 L229.50,401.44 L230.00,401.34 L230.50,401.24 L231.00,401.14 L231.50,401.05 L232.00,400.95 L232.50,400.86 L233.00,400.77 L233.50,400.68 L234.00,400.59 L234.50,400.51 L235.00,400.42 L235.50,400.34 L236.00,400.26 L236.50,400.18 L237.00,400.10 L237.50,400.02 L238.00,399.94 L238.50,399.87 L239.00,399.79 L239.50,399.72 L240.00,399.65 L240.50,399.58 L241.00,399.51 L241.50,399.44 L242.00,399.37 L242.50,399.31 L243.00,399.24 L243.50,399.18 L244.00,399.12 L244.50,399.05 L245.00,398.99 L245.50,398.93 L246.00,398.87 L246.50,398.82 L247.00,398.76 L247.50,398.70 L248.00,398.65 L248.50,398.59 L249.00,398.54 L249.50,398.48 L250.00,398.43 L250.50,398.38 L251.00,398.33 L251.50,398.28 L252.00,398.23 L252.50,398.18 L253.00,398.13 L253.50,398.08 L254.00,398.03 L254.50,397.99 L255.00,397.94 L255.50,397.89 L256.00,397.85 L256.50,397.80 L257.00,397.76 L257.50,397.71 L258.00,397.67 L258.50,397.62 L259.00,397.58 L259.50,397.54 L260.00,397.49 L260.50,397.45 L261.00,397.41 L261.50,397.37 L262.00,397.32 L262.50,397.28 L263.00,397.24 L263.50,397.20 L264.00,397.15 L264.50,397.11 L265.00,397.07 L265.50,397.03 L266.00,396.98 L266.50,396.94 L267.00,396.90 L267.50,396.86 L268.00,396.81 L268.50,396.77 L269.00,396.73 L269.50,396.68 L270.00,396.64 L270.50,396.60 L271.00,396.55 L271.50,396.51 L272.00,396.46 L272.50,396.42 L273.00,396.37 L273.50,396.33 L274.00,396.28 L274.50,396.23 L275.00,396.19 L275.50,396.14 L276.00,396.09 L276.50,396.04 L277.00,395.99 L277.50,395.94 L278.00,395.89 L278.50,395.84 L279.00,395.78 L279.50,395.73 L280.00,395.68 L280.50,395.62 L281.00,395.57 L281.50,395.51 L282.00,395.45 L282.50,395.40 L283.00,395.34 L283.50,395.28 L284.00,395.22 L284.50,395.16 L285.00,395.09 L285.50,395.03 L286.00,394.96 L286.50,394.90 L287.00,394.83 L287.50,394.76 L288.00,394.70 L288.50,394.63 L289.00,394.55 L289.50,394.48 L290.00,394.41 L290.50,394.33 L291.00,394.26 L291.50,394.18 L292.00,394.10 L292.50,394.02 L293.00,393.94 L293.50,393.86 L294.00,393.77 L294.50,393.68 L294.90,393.61" stroke="#000" stroke-width="2"/>
<path d="M41.0,385.4H294.9M167.95,281.0V437.65" stroke="#222" stroke-width="0.9"/>
</g>
<rect x="41.0" y="281.0" width="253.90" height="156.65" fill="none" stroke="#555" stroke-width="1.1"/>
<path d="M41.00,437.65v-3.2 M51.58,437.65v-1.8 M62.16,437.65v-1.8 M72.74,437.65v-1.8 M83.32,437.65v-3.2 M93.90,437.65v-1.8 M104.47,437.65v-1.8 M115.05,437.65v-1.8 M125.63,437.65v-3.2 M136.21,437.65v-1.8 M146.79,437.65v-1.8 M157.37,437.65v-1.8 M167.95,437.65v-3.2 M178.53,437.65v-1.8 M189.11,437.65v-1.8 M199.69,437.65v-1.8 M210.27,437.65v-3.2 M220.85,437.65v-1.8 M231.42,437.65v-1.8 M242.00,437.65v-1.8 M252.58,437.65v-3.2 M263.16,437.65v-1.8 M273.74,437.65v-1.8 M284.32,437.65v-1.8 M294.90,437.65v-3.2 M41.0,333.20h3 M294.9,406.28h-3 M294.9,427.16h-3" stroke="#222" stroke-width="0.9" fill="none"/>
<g font-family="'Liberation Serif', 'DejaVu Serif', serif" font-size="13.5" fill="#000" stroke="#000" stroke-width="0.3"><text x="41.00" y="452.10" text-anchor="middle"><tspan dy="1.5">−</tspan><tspan dx="2.3" dy="-1.5">6</tspan></text><text x="83.32" y="452.10" text-anchor="middle"><tspan dy="1.5">−</tspan><tspan dx="2.3" dy="-1.5">4</tspan></text><text x="125.63" y="452.10" text-anchor="middle"><tspan dy="1.5">−</tspan><tspan dx="2.3" dy="-1.5">2</tspan></text><text x="167.95" y="452.10" text-anchor="middle">0</text><text x="210.27" y="452.10" text-anchor="middle">2</text><text x="252.58" y="452.10" text-anchor="middle">4</text><text x="294.90" y="452.10" text-anchor="middle">6</text><text x="37.80" y="285.50" text-anchor="end">1</text><text x="37.65" y="337.70" text-anchor="end">0.5</text><text x="38.20" y="389.90" text-anchor="end">0</text><text x="297.60" y="389.90" text-anchor="start">0</text><text x="297.60" y="410.78" text-anchor="start"><tspan dy="1.5">−</tspan><tspan dx="2.3" dy="-1.5">0.2</tspan></text><text x="297.60" y="431.66" text-anchor="start"><tspan dy="1.5">−</tspan><tspan dx="2.3" dy="-1.5">0.4</tspan></text></g>
<text stroke="#000" stroke-width="0.15" transform="translate(12.4,359.65) rotate(-90) scale(0.91,1)" font-family="'Liberation Serif', 'DejaVu Serif', serif" font-size="13.2" text-anchor="middle">ELF</text>
<text stroke="#000" stroke-width="0.2" transform="translate(343.2,365.5) rotate(-90)" font-family="'Liberation Serif', 'DejaVu Serif', serif" font-size="12.2">l<tspan font-style="italic">ϵ</tspan><tspan font-style="italic" font-size="8.3" dy="3.2">x</tspan></text>
<text stroke="#000" stroke-width="0.12" x="164.5" y="473.5" font-family="'Liberation Serif', 'DejaVu Serif', serif" font-size="12.6" font-style="italic">z</text>
<path d="M164.8,465H172.6" stroke="#000" stroke-width="0.8"/>
<text stroke="#000" stroke-width="0.22" x="1.0" y="259.9" font-family="'Liberation Serif', 'DejaVu Serif', serif" font-size="22.5">(c)</text>
<text stroke="#000" stroke-width="0.22" transform="translate(148.3,259.9) scale(1.1,0.95)" font-family="'Liberation Serif', 'DejaVu Serif', serif" font-size="20" font-style="italic">α</text>
<text stroke="#000" stroke-width="0.22" transform="translate(167.2,261.35) scale(1.41,1)" font-family="'Liberation Serif', 'DejaVu Serif', serif" font-size="20.4">=</text>
<text stroke="#000" stroke-width="0.22" x="187.9" y="259.9" font-family="'Liberation Serif', 'DejaVu Serif', serif" font-size="20.4">0.95</text>
<clipPath id="clipd"><rect x="394.55" y="281.0" width="253.85" height="156.65"/></clipPath>
<g clip-path="url(#clipd)" fill="none" stroke-linejoin="round">
<path d="M394.55,359.30 L395.05,359.30 L395.55,359.30 L396.05,359.30 L396.55,359.30 L397.05,359.30 L397.55,359.30 L398.05,359.30 L398.55,359.30 L399.05,359.30 L399.55,359.30 L400.05,359.30 L400.55,359.30 L401.05,359.30 L401.55,359.30 L402.05,359.30 L402.55,359.30 L403.05,359.30 L403.55,359.30 L404.05,359.30 L404.55,359.30 L405.05,359.30 L405.55,359.30 L406.05,359.30 L406.55,359.30 L407.05,359.30 L407.55,359.30 L408.05,359.30 L408.55,359.30 L409.05,359.30 L409.55,359.30 L410.05,359.30 L410.55,359.30 L411.05,359.30 L411.55,359.30 L412.05,359.30 L412.55,359.30 L413.05,359.30 L413.55,359.30 L414.05,359.30 L414.55,359.30 L415.05,359.30 L415.55,359.30 L416.05,359.30 L416.55,359.30 L417.05,359.30 L417.55,359.30 L418.05,359.30 L418.55,359.30 L419.05,359.30 L419.55,359.30 L420.05,359.30 L420.55,359.30 L421.05,359.30 L421.55,359.30 L422.05,359.30 L422.55,359.30 L423.05,359.30 L423.55,359.30 L424.05,359.30 L424.55,359.30 L425.05,359.30 L425.55,359.30 L426.05,359.30 L426.55,359.29 L427.05,359.29 L427.55,359.29 L428.05,359.28 L428.55,359.27 L429.05,359.26 L429.55,359.26 L430.05,359.25 L430.55,359.24 L431.05,359.22 L431.55,359.21 L432.05,359.20 L432.55,359.18 L433.05,359.15 L433.55,359.11 L434.05,359.07 L434.55,359.01 L435.05,358.95 L435.55,358.88 L436.05,358.81 L436.55,358.71 L437.05,358.57 L437.55,358.40 L438.05,358.21 L438.55,358.00 L439.05,357.78 L439.55,357.53 L440.05,357.26 L440.55,356.95 L441.05,356.61 L441.55,356.25 L442.05,355.86 L442.55,355.42 L443.05,354.92 L443.55,354.38 L444.05,353.82 L444.55,353.24 L445.05,352.67 L445.55,352.08 L446.05,351.46 L446.55,350.80 L447.05,350.08 L447.55,349.27 L448.05,348.38 L448.55,347.42 L449.05,346.40 L449.55,345.34 L450.05,344.25 L450.55,343.15 L451.05,342.04 L451.55,340.88 L452.05,339.67 L452.55,338.44 L453.05,337.18 L453.55,335.92 L454.05,334.67 L454.55,333.38 L455.05,332.06 L455.55,330.75 L456.05,329.47 L456.55,328.25 L457.05,327.09 L457.55,325.95 L458.05,324.84 L458.55,323.78 L459.05,322.79 L459.55,321.88 L460.05,321.06 L460.55,320.27 L461.05,319.55 L461.55,318.90 L462.05,318.35 L462.55,317.89 L463.05,317.48 L463.55,317.11 L464.05,316.74 L464.55,316.33 L465.05,315.90 L465.55,315.46 L466.05,315.06 L466.55,314.72 L467.05,314.48 L467.55,314.34 L468.05,314.24 L468.55,314.14 L469.05,314.06 L469.55,313.99 L470.05,313.94 L470.55,313.91 L471.05,313.90 L471.55,313.96 L472.05,314.09 L472.55,314.29 L473.05,314.53 L473.55,314.78 L474.05,315.04 L474.55,315.28 L475.05,315.50 L475.55,315.72 L476.05,315.96 L476.55,316.20 L477.05,316.45 L477.55,316.70 L478.05,316.97 L478.55,317.24 L479.05,317.56 L479.55,317.91 L480.05,318.26 L480.55,318.58 L481.05,318.84 L481.55,319.01 L482.05,319.14 L482.55,319.25 L483.05,319.35 L483.55,319.44 L484.05,319.51 L484.55,319.58 L485.05,319.64 L485.55,319.69 L486.05,319.75 L486.55,319.80 L487.05,319.84 L487.55,319.88 L488.05,319.90 L488.55,319.90 L489.05,319.87 L489.55,319.82 L490.05,319.76 L490.55,319.69 L491.05,319.61 L491.55,319.54 L492.05,319.48 L492.55,319.42 L493.05,319.39 L493.55,319.36 L494.05,319.34 L494.55,319.31 L495.05,319.29 L495.55,319.27 L496.05,319.25 L496.55,319.23 L497.05,319.22 L497.55,319.21 L498.05,319.20 L498.55,319.20 L499.05,319.22 L499.55,319.25 L500.05,319.29 L500.55,319.34 L501.05,319.40 L501.55,319.46 L502.05,319.52 L502.55,319.56 L503.05,319.60 L503.55,319.64 L504.05,319.68 L504.55,319.71 L505.05,319.75 L505.55,319.79 L506.05,319.82 L506.55,319.85 L507.05,319.87 L507.55,319.89 L508.05,319.90 L508.55,319.90 L509.05,319.90 L509.55,319.89 L510.05,319.87 L510.55,319.86 L511.05,319.84 L511.55,319.82 L512.05,319.80 L512.55,319.78 L513.05,319.76 L513.55,319.74 L514.05,319.72 L514.55,319.71 L515.05,319.69 L515.55,319.68 L516.05,319.67 L516.55,319.66 L517.05,319.65 L517.55,319.64 L518.05,319.63 L518.55,319.63 L519.05,319.62 L519.55,319.61 L520.05,319.61 L520.55,319.60 L521.05,319.60 L521.55,319.60 L522.05,319.60 L522.55,319.60 L523.05,319.61 L523.55,319.61 L524.05,319.62 L524.55,319.63 L525.05,319.64 L525.55,319.65 L526.05,319.66 L526.55,319.67 L527.05,319.68 L527.55,319.69 L528.05,319.70 L528.55,319.71 L529.05,319.72 L529.55,319.74 L530.05,319.76 L530.55,319.78 L531.05,319.80 L531.55,319.82 L532.05,319.84 L532.55,319.86 L533.05,319.88 L533.55,319.89 L534.05,319.90 L534.55,319.90 L535.05,319.90 L535.55,319.88 L536.05,319.86 L536.55,319.84 L537.05,319.81 L537.55,319.78 L538.05,319.74 L538.55,319.70 L539.05,319.66 L539.55,319.63 L540.05,319.59 L540.55,319.55 L541.05,319.50 L541.55,319.44 L542.05,319.38 L542.55,319.33 L543.05,319.28 L543.55,319.24 L544.05,319.21 L544.55,319.20 L545.05,319.20 L545.55,319.21 L546.05,319.22 L546.55,319.23 L547.05,319.25 L547.55,319.27 L548.05,319.30 L548.55,319.32 L549.05,319.35 L549.55,319.37 L550.05,319.40 L550.55,319.44 L551.05,319.49 L551.55,319.56 L552.05,319.64 L552.55,319.71 L553.05,319.78 L553.55,319.84 L554.05,319.88 L554.55,319.90 L555.05,319.89 L555.55,319.87 L556.05,319.83 L556.55,319.78 L557.05,319.73 L557.55,319.68 L558.05,319.62 L558.55,319.56 L559.05,319.49 L559.55,319.41 L560.05,319.32 L560.55,319.22 L561.05,319.10 L561.55,318.97 L562.05,318.77 L562.55,318.49 L563.05,318.16 L563.55,317.81 L564.05,317.46 L564.55,317.15 L565.05,316.89 L565.55,316.63 L566.05,316.37 L566.55,316.13 L567.05,315.89 L567.55,315.66 L568.05,315.43 L568.55,315.21 L569.05,314.97 L569.55,314.71 L570.05,314.45 L570.55,314.23 L571.05,314.05 L571.55,313.93 L572.05,313.90 L572.55,313.92 L573.05,313.95 L573.55,314.01 L574.05,314.08 L574.55,314.17 L575.05,314.27 L575.55,314.38 L576.05,314.54 L576.55,314.81 L577.05,315.17 L577.55,315.59 L578.05,316.03 L578.55,316.46 L579.05,316.85 L579.55,317.22 L580.05,317.60 L580.55,318.02 L581.05,318.50 L581.55,319.09 L582.05,319.76 L582.55,320.50 L583.05,321.30 L583.55,322.15 L584.05,323.08 L584.55,324.09 L585.05,325.17 L585.55,326.29 L586.05,327.44 L586.55,328.61 L587.05,329.85 L587.55,331.14 L588.05,332.46 L588.55,333.77 L589.05,335.05 L589.55,336.30 L590.05,337.56 L590.55,338.81 L591.05,340.04 L591.55,341.23 L592.05,342.38 L592.55,343.48 L593.05,344.58 L593.55,345.66 L594.05,346.71 L594.55,347.72 L595.05,348.66 L595.55,349.52 L596.05,350.30 L596.55,351.00 L597.05,351.65 L597.55,352.26 L598.05,352.84 L598.55,353.41 L599.05,353.99 L599.55,354.55 L600.05,355.08 L600.55,355.56 L601.05,355.98 L601.55,356.36 L602.05,356.72 L602.55,357.04 L603.05,357.34 L603.55,357.61 L604.05,357.84 L604.55,358.06 L605.05,358.27 L605.55,358.46 L606.05,358.62 L606.55,358.74 L607.05,358.83 L607.55,358.90 L608.05,358.97 L608.55,359.03 L609.05,359.08 L609.55,359.13 L610.05,359.16 L610.55,359.19 L611.05,359.20 L611.55,359.22 L612.05,359.23 L612.55,359.24 L613.05,359.25 L613.55,359.26 L614.05,359.27 L614.55,359.27 L615.05,359.28 L615.55,359.29 L616.05,359.29 L616.55,359.30 L617.05,359.30 L617.55,359.30 L618.05,359.30 L618.55,359.30 L619.05,359.30 L619.55,359.30 L620.05,359.30 L620.55,359.30 L621.05,359.30 L621.55,359.30 L622.05,359.30 L622.55,359.30 L623.05,359.30 L623.55,359.30 L624.05,359.30 L624.55,359.30 L625.05,359.30 L625.55,359.30 L626.05,359.30 L626.55,359.30 L627.05,359.30 L627.55,359.30 L628.05,359.30 L628.55,359.30 L629.05,359.30 L629.55,359.30 L630.05,359.30 L630.55,359.30 L631.05,359.30 L631.55,359.30 L632.05,359.30 L632.55,359.30 L633.05,359.30 L633.55,359.30 L634.05,359.30 L634.55,359.30 L635.05,359.30 L635.55,359.30 L636.05,359.30 L636.55,359.30 L637.05,359.30 L637.55,359.30 L638.05,359.30 L638.55,359.30 L639.05,359.30 L639.55,359.30 L640.05,359.30 L640.55,359.30 L641.05,359.30 L641.55,359.30 L642.05,359.30 L642.55,359.30 L643.05,359.30 L643.55,359.30 L644.05,359.30 L644.55,359.30 L645.05,359.30 L645.55,359.30 L646.05,359.30 L646.55,359.30 L647.05,359.30 L647.55,359.30 L648.05,359.30 L648.40,359.30" stroke="#22ee00" stroke-width="2.2" stroke-dasharray="9.2 5.65 2.4 5.65" stroke-dashoffset="11.87" stroke-linecap="round"/>
<path d="M394.55,359.30 L395.05,359.30 L395.55,359.30 L396.05,359.30 L396.55,359.30 L397.05,359.31 L397.55,359.31 L398.05,359.31 L398.55,359.32 L399.05,359.32 L399.55,359.32 L400.05,359.33 L400.55,359.33 L401.05,359.34 L401.55,359.35 L402.05,359.35 L402.55,359.36 L403.05,359.37 L403.55,359.38 L404.05,359.38 L404.55,359.39 L405.05,359.40 L405.55,359.42 L406.05,359.44 L406.55,359.47 L407.05,359.50 L407.55,359.54 L408.05,359.59 L408.55,359.64 L409.05,359.69 L409.55,359.75 L410.05,359.80 L410.55,359.86 L411.05,359.91 L411.55,359.96 L412.05,360.02 L412.55,360.07 L413.05,360.12 L413.55,360.17 L414.05,360.23 L414.55,360.28 L415.05,360.34 L415.55,360.40 L416.05,360.46 L416.55,360.52 L417.05,360.58 L417.55,360.65 L418.05,360.71 L418.55,360.77 L419.05,360.84 L419.55,360.91 L420.05,360.97 L420.55,361.04 L421.05,361.10 L421.55,361.16 L422.05,361.23 L422.55,361.31 L423.05,361.38 L423.55,361.47 L424.05,361.57 L424.55,361.68 L425.05,361.82 L425.55,361.97 L426.05,362.15 L426.55,362.34 L427.05,362.54 L427.55,362.74 L428.05,362.95 L428.55,363.16 L429.05,363.36 L429.55,363.56 L430.05,363.77 L430.55,363.98 L431.05,364.20 L431.55,364.42 L432.05,364.65 L432.55,364.88 L433.05,365.13 L433.55,365.37 L434.05,365.63 L434.55,365.89 L435.05,366.17 L435.55,366.45 L436.05,366.74 L436.55,367.03 L437.05,367.34 L437.55,367.65 L438.05,367.97 L438.55,368.30 L439.05,368.64 L439.55,368.99 L440.05,369.36 L440.55,369.74 L441.05,370.12 L441.55,370.52 L442.05,370.92 L442.55,371.34 L443.05,371.76 L443.55,372.19 L444.05,372.63 L444.55,373.09 L445.05,373.56 L445.55,374.04 L446.05,374.53 L446.55,375.03 L447.05,375.53 L447.55,376.04 L448.05,376.56 L448.55,377.08 L449.05,377.62 L449.55,378.17 L450.05,378.72 L450.55,379.29 L451.05,379.86 L451.55,380.44 L452.05,381.03 L452.55,381.62 L453.05,382.23 L453.55,382.84 L454.05,383.46 L454.55,384.10 L455.05,384.74 L455.55,385.40 L456.05,386.06 L456.55,386.72 L457.05,387.40 L457.55,388.09 L458.05,388.81 L458.55,389.55 L459.05,390.32 L459.55,391.16 L460.05,392.09 L460.55,393.06 L461.05,394.01 L461.55,394.90 L462.05,395.67 L462.55,396.34 L463.05,396.95 L463.55,397.51 L464.05,398.05 L464.55,398.58 L465.05,399.13 L465.55,399.70 L466.05,400.31 L466.55,400.98 L467.05,401.67 L467.55,402.38 L468.05,403.09 L468.55,403.79 L469.05,404.45 L469.55,405.08 L470.05,405.64 L470.55,406.15 L471.05,406.63 L471.55,407.09 L472.05,407.53 L472.55,407.96 L473.05,408.37 L473.55,408.76 L474.05,409.15 L474.55,409.52 L475.05,409.88 L475.55,410.24 L476.05,410.59 L476.55,410.93 L477.05,411.28 L477.55,411.61 L478.05,411.94 L478.55,412.26 L479.05,412.57 L479.55,412.87 L480.05,413.17 L480.55,413.46 L481.05,413.75 L481.55,414.03 L482.05,414.30 L482.55,414.57 L483.05,414.83 L483.55,415.09 L484.05,415.34 L484.55,415.59 L485.05,415.83 L485.55,416.07 L486.05,416.30 L486.55,416.53 L487.05,416.75 L487.55,416.97 L488.05,417.18 L488.55,417.38 L489.05,417.58 L489.55,417.77 L490.05,417.96 L490.55,418.14 L491.05,418.31 L491.55,418.49 L492.05,418.65 L492.55,418.82 L493.05,418.98 L493.55,419.14 L494.05,419.29 L494.55,419.44 L495.05,419.60 L495.55,419.74 L496.05,419.89 L496.55,420.04 L497.05,420.19 L497.55,420.33 L498.05,420.47 L498.55,420.61 L499.05,420.74 L499.55,420.88 L500.05,421.01 L500.55,421.13 L501.05,421.25 L501.55,421.37 L502.05,421.48 L502.55,421.59 L503.05,421.69 L503.55,421.80 L504.05,421.90 L504.55,422.00 L505.05,422.09 L505.55,422.19 L506.05,422.28 L506.55,422.36 L507.05,422.45 L507.55,422.53 L508.05,422.61 L508.55,422.68 L509.05,422.76 L509.55,422.83 L510.05,422.91 L510.55,422.98 L511.05,423.04 L511.55,423.11 L512.05,423.17 L512.55,423.23 L513.05,423.29 L513.55,423.33 L514.05,423.38 L514.55,423.42 L515.05,423.46 L515.55,423.50 L516.05,423.54 L516.55,423.58 L517.05,423.61 L517.55,423.65 L518.05,423.68 L518.55,423.71 L519.05,423.74 L519.55,423.76 L520.05,423.78 L520.55,423.79 L521.05,423.80 L521.55,423.80 L522.05,423.80 L522.55,423.79 L523.05,423.77 L523.55,423.75 L524.05,423.73 L524.55,423.70 L525.05,423.67 L525.55,423.64 L526.05,423.60 L526.55,423.57 L527.05,423.53 L527.55,423.49 L528.05,423.45 L528.55,423.41 L529.05,423.37 L529.55,423.32 L530.05,423.27 L530.55,423.21 L531.05,423.15 L531.55,423.09 L532.05,423.02 L532.55,422.96 L533.05,422.88 L533.55,422.81 L534.05,422.74 L534.55,422.66 L535.05,422.58 L535.55,422.51 L536.05,422.42 L536.55,422.34 L537.05,422.25 L537.55,422.16 L538.05,422.07 L538.55,421.97 L539.05,421.87 L539.55,421.77 L540.05,421.66 L540.55,421.55 L541.05,421.44 L541.55,421.33 L542.05,421.22 L542.55,421.09 L543.05,420.97 L543.55,420.84 L544.05,420.70 L544.55,420.57 L545.05,420.43 L545.55,420.29 L546.05,420.14 L546.55,420.00 L547.05,419.85 L547.55,419.70 L548.05,419.55 L548.55,419.40 L549.05,419.25 L549.55,419.09 L550.05,418.93 L550.55,418.77 L551.05,418.60 L551.55,418.43 L552.05,418.26 L552.55,418.08 L553.05,417.90 L553.55,417.71 L554.05,417.52 L554.55,417.32 L555.05,417.12 L555.55,416.90 L556.05,416.69 L556.55,416.46 L557.05,416.23 L557.55,416.00 L558.05,415.76 L558.55,415.51 L559.05,415.26 L559.55,415.01 L560.05,414.75 L560.55,414.49 L561.05,414.22 L561.55,413.95 L562.05,413.66 L562.55,413.38 L563.05,413.08 L563.55,412.78 L564.05,412.47 L564.55,412.16 L565.05,411.84 L565.55,411.51 L566.05,411.17 L566.55,410.83 L567.05,410.48 L567.55,410.13 L568.05,409.77 L568.55,409.41 L569.05,409.03 L569.55,408.65 L570.05,408.25 L570.55,407.83 L571.05,407.40 L571.55,406.96 L572.05,406.49 L572.55,406.00 L573.05,405.48 L573.55,404.90 L574.05,404.26 L574.55,403.58 L575.05,402.88 L575.55,402.16 L576.05,401.46 L576.55,400.77 L577.05,400.12 L577.55,399.52 L578.05,398.96 L578.55,398.42 L579.05,397.89 L579.55,397.34 L580.05,396.77 L580.55,396.14 L581.05,395.45 L581.55,394.64 L582.05,393.73 L582.55,392.77 L583.05,391.81 L583.55,390.90 L584.05,390.09 L584.55,389.32 L585.05,388.59 L585.55,387.88 L586.05,387.20 L586.55,386.52 L587.05,385.86 L587.55,385.20 L588.05,384.55 L588.55,383.91 L589.05,383.28 L589.55,382.66 L590.05,382.05 L590.55,381.44 L591.05,380.85 L591.55,380.27 L592.05,379.69 L592.55,379.12 L593.05,378.56 L593.55,378.00 L594.05,377.46 L594.55,376.93 L595.05,376.40 L595.55,375.89 L596.05,375.38 L596.55,374.88 L597.05,374.38 L597.55,373.90 L598.05,373.42 L598.55,372.95 L599.05,372.50 L599.55,372.06 L600.05,371.63 L600.55,371.21 L601.05,370.80 L601.55,370.40 L602.05,370.01 L602.55,369.62 L603.05,369.25 L603.55,368.89 L604.05,368.54 L604.55,368.20 L605.05,367.87 L605.55,367.55 L606.05,367.24 L606.55,366.94 L607.05,366.65 L607.55,366.36 L608.05,366.08 L608.55,365.81 L609.05,365.55 L609.55,365.30 L610.05,365.05 L610.55,364.81 L611.05,364.58 L611.55,364.35 L612.05,364.13 L612.55,363.92 L613.05,363.71 L613.55,363.50 L614.05,363.30 L614.55,363.10 L615.05,362.89 L615.55,362.68 L616.05,362.48 L616.55,362.28 L617.05,362.10 L617.55,361.93 L618.05,361.77 L618.55,361.64 L619.05,361.54 L619.55,361.44 L620.05,361.36 L620.55,361.28 L621.05,361.21 L621.55,361.14 L622.05,361.08 L622.55,361.02 L623.05,360.95 L623.55,360.89 L624.05,360.82 L624.55,360.76 L625.05,360.69 L625.55,360.63 L626.05,360.56 L626.55,360.50 L627.05,360.44 L627.55,360.38 L628.05,360.32 L628.55,360.27 L629.05,360.21 L629.55,360.16 L630.05,360.10 L630.55,360.05 L631.05,360.00 L631.55,359.95 L632.05,359.89 L632.55,359.84 L633.05,359.78 L633.55,359.73 L634.05,359.68 L634.55,359.62 L635.05,359.58 L635.55,359.53 L636.05,359.49 L636.55,359.46 L637.05,359.43 L637.55,359.41 L638.05,359.40 L638.55,359.39 L639.05,359.38 L639.55,359.37 L640.05,359.37 L640.55,359.36 L641.05,359.35 L641.55,359.34 L642.05,359.34 L642.55,359.33 L643.05,359.33 L643.55,359.32 L644.05,359.32 L644.55,359.31 L645.05,359.31 L645.55,359.31 L646.05,359.31 L646.55,359.30 L647.05,359.30 L647.55,359.30 L648.05,359.30 L648.40,359.30" stroke="#ff0000" stroke-width="2.2" stroke-dasharray="7.0 5.7" stroke-dashoffset="6.70" stroke-linecap="round"/>
<path d="M394.55,366.05 L395.05,366.12 L395.55,366.20 L396.05,366.28 L396.55,366.35 L397.05,366.43 L397.55,366.50 L398.05,366.58 L398.55,366.65 L399.05,366.72 L399.55,366.79 L400.05,366.87 L400.55,366.94 L401.05,367.01 L401.55,367.08 L402.05,367.15 L402.55,367.22 L403.05,367.30 L403.55,367.37 L404.05,367.44 L404.55,367.51 L405.05,367.58 L405.55,367.65 L406.05,367.73 L406.55,367.80 L407.05,367.87 L407.55,367.94 L408.05,368.02 L408.55,368.09 L409.05,368.17 L409.55,368.24 L410.05,368.32 L410.55,368.40 L411.05,368.47 L411.55,368.55 L412.05,368.63 L412.55,368.71 L413.05,368.79 L413.55,368.88 L414.05,368.96 L414.55,369.04 L415.05,369.13 L415.55,369.22 L416.05,369.30 L416.55,369.39 L417.05,369.49 L417.55,369.58 L418.05,369.67 L418.55,369.77 L419.05,369.86 L419.55,369.96 L420.05,370.06 L420.55,370.16 L421.05,370.27 L421.55,370.37 L422.05,370.48 L422.55,370.59 L423.05,370.70 L423.55,370.82 L424.05,370.93 L424.55,371.05 L425.05,371.17 L425.55,371.29 L426.05,371.41 L426.55,371.54 L427.05,371.67 L427.55,371.80 L428.05,371.93 L428.55,372.07 L429.05,372.21 L429.55,372.35 L430.05,372.50 L430.55,372.64 L431.05,372.79 L431.55,372.95 L432.05,373.11 L432.55,373.27 L433.05,373.44 L433.55,373.61 L434.05,373.78 L434.55,373.96 L435.05,374.15 L435.55,374.34 L436.05,374.54 L436.55,374.74 L437.05,374.95 L437.55,375.16 L438.05,375.39 L438.55,375.61 L439.05,375.85 L439.55,376.09 L440.05,376.34 L440.55,376.60 L441.05,376.86 L441.55,377.14 L442.05,377.42 L442.55,377.71 L443.05,378.01 L443.55,378.32 L444.05,378.63 L444.55,378.96 L445.05,379.30 L445.55,379.64 L446.05,380.00 L446.55,380.37 L447.05,380.75 L447.55,381.13 L448.05,381.53 L448.55,381.94 L449.05,382.36 L449.55,382.79 L450.05,383.24 L450.55,383.69 L451.05,384.15 L451.55,384.62 L452.05,385.09 L452.55,385.58 L453.05,386.07 L453.55,386.58 L454.05,387.09 L454.55,387.60 L455.05,388.13 L455.55,388.65 L456.05,389.19 L456.55,389.73 L457.05,390.28 L457.55,390.83 L458.05,391.39 L458.55,391.95 L459.05,392.51 L459.55,393.08 L460.05,393.65 L460.55,394.23 L461.05,394.81 L461.55,395.39 L462.05,395.97 L462.55,396.55 L463.05,397.14 L463.55,397.73 L464.05,398.31 L464.55,398.89 L465.05,399.47 L465.55,400.05 L466.05,400.63 L466.55,401.20 L467.05,401.76 L467.55,402.32 L468.05,402.87 L468.55,403.42 L469.05,403.95 L469.55,404.48 L470.05,404.99 L470.55,405.50 L471.05,405.99 L471.55,406.47 L472.05,406.95 L472.55,407.41 L473.05,407.86 L473.55,408.30 L474.05,408.73 L474.55,409.15 L475.05,409.56 L475.55,409.97 L476.05,410.36 L476.55,410.74 L477.05,411.12 L477.55,411.48 L478.05,411.84 L478.55,412.18 L479.05,412.52 L479.55,412.85 L480.05,413.17 L480.55,413.49 L481.05,413.79 L481.55,414.09 L482.05,414.38 L482.55,414.66 L483.05,414.94 L483.55,415.20 L484.05,415.47 L484.55,415.72 L485.05,415.97 L485.55,416.21 L486.05,416.44 L486.55,416.67 L487.05,416.89 L487.55,417.11 L488.05,417.32 L488.55,417.52 L489.05,417.72 L489.55,417.91 L490.05,418.10 L490.55,418.28 L491.05,418.46 L491.55,418.63 L492.05,418.80 L492.55,418.96 L493.05,419.12 L493.55,419.28 L494.05,419.43 L494.55,419.58 L495.05,419.72 L495.55,419.86 L496.05,420.00 L496.55,420.13 L497.05,420.26 L497.55,420.39 L498.05,420.51 L498.55,420.63 L499.05,420.75 L499.55,420.87 L500.05,420.98 L500.55,421.10 L501.05,421.21 L501.55,421.32 L502.05,421.42 L502.55,421.53 L503.05,421.63 L503.55,421.73 L504.05,421.83 L504.55,421.93 L505.05,422.03 L505.55,422.12 L506.05,422.22 L506.55,422.31 L507.05,422.40 L507.55,422.48 L508.05,422.57 L508.55,422.65 L509.05,422.73 L509.55,422.80 L510.05,422.88 L510.55,422.95 L511.05,423.02 L511.55,423.09 L512.05,423.15 L512.55,423.21 L513.05,423.27 L513.55,423.33 L514.05,423.38 L514.55,423.43 L515.05,423.48 L515.55,423.52 L516.05,423.56 L516.55,423.60 L517.05,423.63 L517.55,423.67 L518.05,423.69 L518.55,423.72 L519.05,423.74 L519.55,423.76 L520.05,423.77 L520.55,423.78 L521.05,423.79 L521.55,423.79 L522.05,423.79 L522.55,423.78 L523.05,423.77 L523.55,423.76 L524.05,423.75 L524.55,423.73 L525.05,423.70 L525.55,423.68 L526.05,423.65 L526.55,423.62 L527.05,423.58 L527.55,423.54 L528.05,423.50 L528.55,423.45 L529.05,423.40 L529.55,423.35 L530.05,423.29 L530.55,423.23 L531.05,423.17 L531.55,423.11 L532.05,423.04 L532.55,422.97 L533.05,422.89 L533.55,422.82 L534.05,422.74 L534.55,422.65 L535.05,422.57 L535.55,422.48 L536.05,422.39 L536.55,422.30 L537.05,422.20 L537.55,422.11 L538.05,422.01 L538.55,421.90 L539.05,421.80 L539.55,421.69 L540.05,421.58 L540.55,421.47 L541.05,421.36 L541.55,421.24 L542.05,421.12 L542.55,421.00 L543.05,420.88 L543.55,420.76 L544.05,420.63 L544.55,420.50 L545.05,420.37 L545.55,420.24 L546.05,420.11 L546.55,419.97 L547.05,419.83 L547.55,419.70 L548.05,419.55 L548.55,419.41 L549.05,419.27 L549.55,419.12 L550.05,418.97 L550.55,418.82 L551.05,418.66 L551.55,418.50 L552.05,418.34 L552.55,418.17 L553.05,418.00 L553.55,417.83 L554.05,417.65 L554.55,417.46 L555.05,417.27 L555.55,417.07 L556.05,416.87 L556.55,416.66 L557.05,416.44 L557.55,416.22 L558.05,415.99 L558.55,415.76 L559.05,415.51 L559.55,415.26 L560.05,415.00 L560.55,414.73 L561.05,414.46 L561.55,414.17 L562.05,413.87 L562.55,413.57 L563.05,413.26 L563.55,412.93 L564.05,412.60 L564.55,412.25 L565.05,411.90 L565.55,411.53 L566.05,411.15 L566.55,410.77 L567.05,410.36 L567.55,409.95 L568.05,409.53 L568.55,409.09 L569.05,408.65 L569.55,408.20 L570.05,407.73 L570.55,407.26 L571.05,406.78 L571.55,406.29 L572.05,405.79 L572.55,405.28 L573.05,404.76 L573.55,404.24 L574.05,403.71 L574.55,403.17 L575.05,402.63 L575.55,402.08 L576.05,401.53 L576.55,400.97 L577.05,400.41 L577.55,399.84 L578.05,399.26 L578.55,398.69 L579.05,398.11 L579.55,397.53 L580.05,396.94 L580.55,396.36 L581.05,395.77 L581.55,395.19 L582.05,394.60 L582.55,394.02 L583.05,393.44 L583.55,392.86 L584.05,392.28 L584.55,391.71 L585.05,391.14 L585.55,390.58 L586.05,390.02 L586.55,389.47 L587.05,388.93 L587.55,388.39 L588.05,387.86 L588.55,387.34 L589.05,386.83 L589.55,386.32 L590.05,385.83 L590.55,385.35 L591.05,384.88 L591.55,384.42 L592.05,383.98 L592.55,383.54 L593.05,383.11 L593.55,382.70 L594.05,382.29 L594.55,381.89 L595.05,381.51 L595.55,381.13 L596.05,380.76 L596.55,380.40 L597.05,380.05 L597.55,379.71 L598.05,379.38 L598.55,379.05 L599.05,378.73 L599.55,378.43 L600.05,378.12 L600.55,377.83 L601.05,377.54 L601.55,377.26 L602.05,376.99 L602.55,376.72 L603.05,376.46 L603.55,376.21 L604.05,375.96 L604.55,375.72 L605.05,375.48 L605.55,375.25 L606.05,375.03 L606.55,374.81 L607.05,374.59 L607.55,374.38 L608.05,374.18 L608.55,373.98 L609.05,373.78 L609.55,373.59 L610.05,373.41 L610.55,373.23 L611.05,373.05 L611.55,372.88 L612.05,372.71 L612.55,372.55 L613.05,372.39 L613.55,372.23 L614.05,372.08 L614.55,371.93 L615.05,371.79 L615.55,371.65 L616.05,371.51 L616.55,371.38 L617.05,371.25 L617.55,371.12 L618.05,371.00 L618.55,370.88 L619.05,370.76 L619.55,370.65 L620.05,370.54 L620.55,370.43 L621.05,370.32 L621.55,370.22 L622.05,370.12 L622.55,370.02 L623.05,369.92 L623.55,369.83 L624.05,369.74 L624.55,369.65 L625.05,369.56 L625.55,369.47 L626.05,369.39 L626.55,369.31 L627.05,369.23 L627.55,369.15 L628.05,369.07 L628.55,368.99 L629.05,368.92 L629.55,368.85 L630.05,368.77 L630.55,368.70 L631.05,368.63 L631.55,368.56 L632.05,368.49 L632.55,368.42 L633.05,368.35 L633.55,368.28 L634.05,368.22 L634.55,368.15 L635.05,368.08 L635.55,368.01 L636.05,367.95 L636.55,367.88 L637.05,367.81 L637.55,367.74 L638.05,367.68 L638.55,367.61 L639.05,367.54 L639.55,367.47 L640.05,367.40 L640.55,367.33 L641.05,367.25 L641.55,367.18 L642.05,367.10 L642.55,367.03 L643.05,366.95 L643.55,366.87 L644.05,366.79 L644.55,366.71 L645.05,366.63 L645.55,366.54 L646.05,366.46 L646.55,366.37 L647.05,366.28 L647.55,366.18 L648.05,366.09 L648.40,366.02" stroke="#1428ff" stroke-width="2.3" stroke-dasharray="2.6 1.6"/>
<path d="M394.55,367.51 L395.05,367.58 L395.55,367.64 L396.05,367.70 L396.55,367.77 L397.05,367.83 L397.55,367.89 L398.05,367.95 L398.55,368.01 L399.05,368.07 L399.55,368.13 L400.05,368.18 L400.55,368.24 L401.05,368.30 L401.55,368.36 L402.05,368.42 L402.55,368.47 L403.05,368.53 L403.55,368.59 L404.05,368.65 L404.55,368.71 L405.05,368.77 L405.55,368.83 L406.05,368.89 L406.55,368.95 L407.05,369.01 L407.55,369.07 L408.05,369.14 L408.55,369.20 L409.05,369.27 L409.55,369.33 L410.05,369.40 L410.55,369.47 L411.05,369.54 L411.55,369.61 L412.05,369.68 L412.55,369.75 L413.05,369.83 L413.55,369.91 L414.05,369.98 L414.55,370.06 L415.05,370.15 L415.55,370.23 L416.05,370.31 L416.55,370.40 L417.05,370.49 L417.55,370.58 L418.05,370.68 L418.55,370.77 L419.05,370.87 L419.55,370.97 L420.05,371.08 L420.55,371.18 L421.05,371.29 L421.55,371.40 L422.05,371.51 L422.55,371.63 L423.05,371.75 L423.55,371.87 L424.05,372.00 L424.55,372.12 L425.05,372.26 L425.55,372.39 L426.05,372.53 L426.55,372.67 L427.05,372.81 L427.55,372.96 L428.05,373.11 L428.55,373.27 L429.05,373.43 L429.55,373.59 L430.05,373.76 L430.55,373.93 L431.05,374.10 L431.55,374.28 L432.05,374.46 L432.55,374.65 L433.05,374.84 L433.55,375.03 L434.05,375.23 L434.55,375.44 L435.05,375.64 L435.55,375.86 L436.05,376.08 L436.55,376.30 L437.05,376.52 L437.55,376.76 L438.05,376.99 L438.55,377.23 L439.05,377.48 L439.55,377.73 L440.05,377.99 L440.55,378.25 L441.05,378.52 L441.55,378.79 L442.05,379.07 L442.55,379.35 L443.05,379.64 L443.55,379.94 L444.05,380.24 L444.55,380.55 L445.05,380.86 L445.55,381.18 L446.05,381.50 L446.55,381.83 L447.05,382.17 L447.55,382.52 L448.05,382.87 L448.55,383.23 L449.05,383.59 L449.55,383.97 L450.05,384.35 L450.55,384.75 L451.05,385.15 L451.55,385.56 L452.05,385.98 L452.55,386.41 L453.05,386.85 L453.55,387.30 L454.05,387.76 L454.55,388.23 L455.05,388.71 L455.55,389.21 L456.05,389.71 L456.55,390.23 L457.05,390.76 L457.55,391.30 L458.05,391.85 L458.55,392.42 L459.05,392.99 L459.55,393.57 L460.05,394.16 L460.55,394.75 L461.05,395.34 L461.55,395.94 L462.05,396.54 L462.55,397.14 L463.05,397.73 L463.55,398.33 L464.05,398.92 L464.55,399.50 L465.05,400.08 L465.55,400.64 L466.05,401.20 L466.55,401.75 L467.05,402.28 L467.55,402.81 L468.05,403.33 L468.55,403.83 L469.05,404.33 L469.55,404.81 L470.05,405.29 L470.55,405.76 L471.05,406.21 L471.55,406.66 L472.05,407.10 L472.55,407.53 L473.05,407.95 L473.55,408.37 L474.05,408.77 L474.55,409.17 L475.05,409.55 L475.55,409.93 L476.05,410.30 L476.55,410.67 L477.05,411.02 L477.55,411.37 L478.05,411.71 L478.55,412.04 L479.05,412.37 L479.55,412.68 L480.05,412.99 L480.55,413.30 L481.05,413.59 L481.55,413.89 L482.05,414.17 L482.55,414.45 L483.05,414.72 L483.55,414.98 L484.05,415.24 L484.55,415.49 L485.05,415.74 L485.55,415.98 L486.05,416.22 L486.55,416.45 L487.05,416.68 L487.55,416.90 L488.05,417.11 L488.55,417.32 L489.05,417.53 L489.55,417.73 L490.05,417.93 L490.55,418.12 L491.05,418.31 L491.55,418.49 L492.05,418.67 L492.55,418.85 L493.05,419.02 L493.55,419.19 L494.05,419.35 L494.55,419.51 L495.05,419.67 L495.55,419.83 L496.05,419.98 L496.55,420.13 L497.05,420.28 L497.55,420.42 L498.05,420.56 L498.55,420.70 L499.05,420.84 L499.55,420.97 L500.05,421.10 L500.55,421.23 L501.05,421.35 L501.55,421.47 L502.05,421.59 L502.55,421.70 L503.05,421.81 L503.55,421.92 L504.05,422.02 L504.55,422.13 L505.05,422.22 L505.55,422.32 L506.05,422.41 L506.55,422.50 L507.05,422.59 L507.55,422.67 L508.05,422.75 L508.55,422.83 L509.05,422.90 L509.55,422.98 L510.05,423.04 L510.55,423.11 L511.05,423.17 L511.55,423.23 L512.05,423.29 L512.55,423.34 L513.05,423.39 L513.55,423.43 L514.05,423.48 L514.55,423.52 L515.05,423.55 L515.55,423.59 L516.05,423.62 L516.55,423.65 L517.05,423.67 L517.55,423.69 L518.05,423.71 L518.55,423.73 L519.05,423.74 L519.55,423.75 L520.05,423.75 L520.55,423.75 L521.05,423.75 L521.55,423.75 L522.05,423.74 L522.55,423.73 L523.05,423.72 L523.55,423.70 L524.05,423.68 L524.55,423.66 L525.05,423.63 L525.55,423.60 L526.05,423.57 L526.55,423.54 L527.05,423.50 L527.55,423.46 L528.05,423.41 L528.55,423.37 L529.05,423.32 L529.55,423.26 L530.05,423.21 L530.55,423.15 L531.05,423.09 L531.55,423.03 L532.05,422.96 L532.55,422.89 L533.05,422.82 L533.55,422.75 L534.05,422.67 L534.55,422.59 L535.05,422.51 L535.55,422.43 L536.05,422.34 L536.55,422.25 L537.05,422.16 L537.55,422.07 L538.05,421.97 L538.55,421.87 L539.05,421.77 L539.55,421.67 L540.05,421.56 L540.55,421.45 L541.05,421.34 L541.55,421.23 L542.05,421.12 L542.55,421.00 L543.05,420.88 L543.55,420.76 L544.05,420.64 L544.55,420.51 L545.05,420.38 L545.55,420.26 L546.05,420.12 L546.55,419.99 L547.05,419.86 L547.55,419.72 L548.05,419.58 L548.55,419.44 L549.05,419.30 L549.55,419.15 L550.05,419.00 L550.55,418.85 L551.05,418.69 L551.55,418.53 L552.05,418.37 L552.55,418.20 L553.05,418.03 L553.55,417.86 L554.05,417.67 L554.55,417.49 L555.05,417.30 L555.55,417.10 L556.05,416.90 L556.55,416.69 L557.05,416.47 L557.55,416.25 L558.05,416.02 L558.55,415.78 L559.05,415.54 L559.55,415.29 L560.05,415.03 L560.55,414.76 L561.05,414.49 L561.55,414.20 L562.05,413.91 L562.55,413.61 L563.05,413.30 L563.55,412.98 L564.05,412.65 L564.55,412.31 L565.05,411.95 L565.55,411.59 L566.05,411.22 L566.55,410.84 L567.05,410.44 L567.55,410.03 L568.05,409.62 L568.55,409.19 L569.05,408.75 L569.55,408.30 L570.05,407.84 L570.55,407.37 L571.05,406.89 L571.55,406.39 L572.05,405.89 L572.55,405.38 L573.05,404.85 L573.55,404.32 L574.05,403.78 L574.55,403.23 L575.05,402.68 L575.55,402.13 L576.05,401.57 L576.55,401.01 L577.05,400.45 L577.55,399.90 L578.05,399.34 L578.55,398.79 L579.05,398.25 L579.55,397.70 L580.05,397.16 L580.55,396.62 L581.05,396.09 L581.55,395.56 L582.05,395.03 L582.55,394.50 L583.05,393.98 L583.55,393.47 L584.05,392.95 L584.55,392.44 L585.05,391.94 L585.55,391.44 L586.05,390.95 L586.55,390.46 L587.05,389.97 L587.55,389.49 L588.05,389.01 L588.55,388.54 L589.05,388.08 L589.55,387.62 L590.05,387.16 L590.55,386.72 L591.05,386.27 L591.55,385.84 L592.05,385.41 L592.55,384.98 L593.05,384.56 L593.55,384.15 L594.05,383.75 L594.55,383.35 L595.05,382.96 L595.55,382.58 L596.05,382.20 L596.55,381.83 L597.05,381.47 L597.55,381.11 L598.05,380.76 L598.55,380.42 L599.05,380.09 L599.55,379.77 L600.05,379.45 L600.55,379.14 L601.05,378.84 L601.55,378.54 L602.05,378.25 L602.55,377.97 L603.05,377.70 L603.55,377.43 L604.05,377.17 L604.55,376.91 L605.05,376.66 L605.55,376.42 L606.05,376.18 L606.55,375.95 L607.05,375.73 L607.55,375.51 L608.05,375.29 L608.55,375.09 L609.05,374.88 L609.55,374.69 L610.05,374.49 L610.55,374.31 L611.05,374.13 L611.55,373.95 L612.05,373.78 L612.55,373.61 L613.05,373.45 L613.55,373.29 L614.05,373.14 L614.55,372.99 L615.05,372.85 L615.55,372.71 L616.05,372.57 L616.55,372.44 L617.05,372.31 L617.55,372.19 L618.05,372.07 L618.55,371.95 L619.05,371.83 L619.55,371.72 L620.05,371.62 L620.55,371.51 L621.05,371.41 L621.55,371.31 L622.05,371.21 L622.55,371.12 L623.05,371.03 L623.55,370.94 L624.05,370.86 L624.55,370.77 L625.05,370.69 L625.55,370.61 L626.05,370.54 L626.55,370.46 L627.05,370.39 L627.55,370.31 L628.05,370.24 L628.55,370.18 L629.05,370.11 L629.55,370.04 L630.05,369.98 L630.55,369.91 L631.05,369.85 L631.55,369.79 L632.05,369.72 L632.55,369.66 L633.05,369.60 L633.55,369.54 L634.05,369.48 L634.55,369.42 L635.05,369.36 L635.55,369.30 L636.05,369.24 L636.55,369.18 L637.05,369.12 L637.55,369.06 L638.05,369.00 L638.55,368.93 L639.05,368.87 L639.55,368.81 L640.05,368.74 L640.55,368.68 L641.05,368.61 L641.55,368.54 L642.05,368.47 L642.55,368.40 L643.05,368.33 L643.55,368.25 L644.05,368.17 L644.55,368.10 L645.05,368.02 L645.55,367.93 L646.05,367.85 L646.55,367.76 L647.05,367.67 L647.55,367.58 L648.05,367.48 L648.40,367.42" stroke="#000" stroke-width="2"/>
<path d="M394.55,359.3H648.4M521.48,281.0V437.65" stroke="#222" stroke-width="0.9"/>
</g>
<rect x="394.55" y="281.0" width="253.85" height="156.65" fill="none" stroke="#555" stroke-width="1.1"/>
<path d="M394.55,437.65v-3.2 M405.13,437.65v-1.8 M415.70,437.65v-1.8 M426.28,437.65v-1.8 M436.86,437.65v-3.2 M447.44,437.65v-1.8 M458.01,437.65v-1.8 M468.59,437.65v-1.8 M479.17,437.65v-3.2 M489.74,437.65v-1.8 M500.32,437.65v-1.8 M510.90,437.65v-1.8 M521.48,437.65v-3.2 M532.05,437.65v-1.8 M542.63,437.65v-1.8 M553.21,437.65v-1.8 M563.78,437.65v-3.2 M574.36,437.65v-1.8 M584.94,437.65v-1.8 M595.51,437.65v-1.8 M606.09,437.65v-3.2 M616.67,437.65v-1.8 M627.25,437.65v-1.8 M637.82,437.65v-1.8 M648.40,437.65v-3.2 M394.55,320.10h3 M648.4,398.50h-3" stroke="#222" stroke-width="0.9" fill="none"/>
<g font-family="'Liberation Serif', 'DejaVu Serif', serif" font-size="13.5" fill="#000" stroke="#000" stroke-width="0.3"><text x="394.55" y="452.10" text-anchor="middle"><tspan dy="1.5">−</tspan><tspan dx="2.3" dy="-1.5">6</tspan></text><text x="436.86" y="452.10" text-anchor="middle"><tspan dy="1.5">−</tspan><tspan dx="2.3" dy="-1.5">4</tspan></text><text x="479.17" y="452.10" text-anchor="middle"><tspan dy="1.5">−</tspan><tspan dx="2.3" dy="-1.5">2</tspan></text><text x="521.48" y="452.10" text-anchor="middle">0</text><text x="563.78" y="452.10" text-anchor="middle">2</text><text x="606.09" y="452.10" text-anchor="middle">4</text><text x="648.40" y="452.10" text-anchor="middle">6</text><text x="391.35" y="285.40" text-anchor="end">1</text><text x="391.20" y="324.60" text-anchor="end">0.5</text><text x="391.75" y="363.80" text-anchor="end">0</text><text x="651.15" y="363.80" text-anchor="start">0</text><text x="651.15" y="403.00" text-anchor="start"><tspan dy="1.5">−</tspan><tspan dx="2.3" dy="-1.5">0.5</tspan></text><text x="651.15" y="442.20" text-anchor="start"><tspan dy="1.5">−</tspan><tspan dx="2.3" dy="-1.5">1</tspan></text></g>
<text stroke="#000" stroke-width="0.15" transform="translate(365.95,359.65) rotate(-90) scale(0.91,1)" font-family="'Liberation Serif', 'DejaVu Serif', serif" font-size="13.2" text-anchor="middle">ELF</text>
<text stroke="#000" stroke-width="0.2" transform="translate(696.75,365.5) rotate(-90)" font-family="'Liberation Serif', 'DejaVu Serif', serif" font-size="12.2">l<tspan font-style="italic">ϵ</tspan><tspan font-style="italic" font-size="8.3" dy="3.2">x</tspan></text>
<text stroke="#000" stroke-width="0.12" x="518.05" y="473.5" font-family="'Liberation Serif', 'DejaVu Serif', serif" font-size="12.6" font-style="italic">z</text>
<path d="M518.35,465H526.15" stroke="#000" stroke-width="0.8"/>
<text stroke="#000" stroke-width="0.22" x="354.55" y="259.9" font-family="'Liberation Serif', 'DejaVu Serif', serif" font-size="22.5">(d)</text>
<text stroke="#000" stroke-width="0.22" transform="translate(501.85,259.9) scale(1.1,0.95)" font-family="'Liberation Serif', 'DejaVu Serif', serif" font-size="20" font-style="italic">α</text>
<text stroke="#000" stroke-width="0.22" transform="translate(520.75,261.35) scale(1.41,1)" font-family="'Liberation Serif', 'DejaVu Serif', serif" font-size="20.4">=</text>
<text stroke="#000" stroke-width="0.22" x="541.45" y="259.9" font-family="'Liberation Serif', 'DejaVu Serif', serif" font-size="20.4">5.40</text>
</svg>
</body></html>
